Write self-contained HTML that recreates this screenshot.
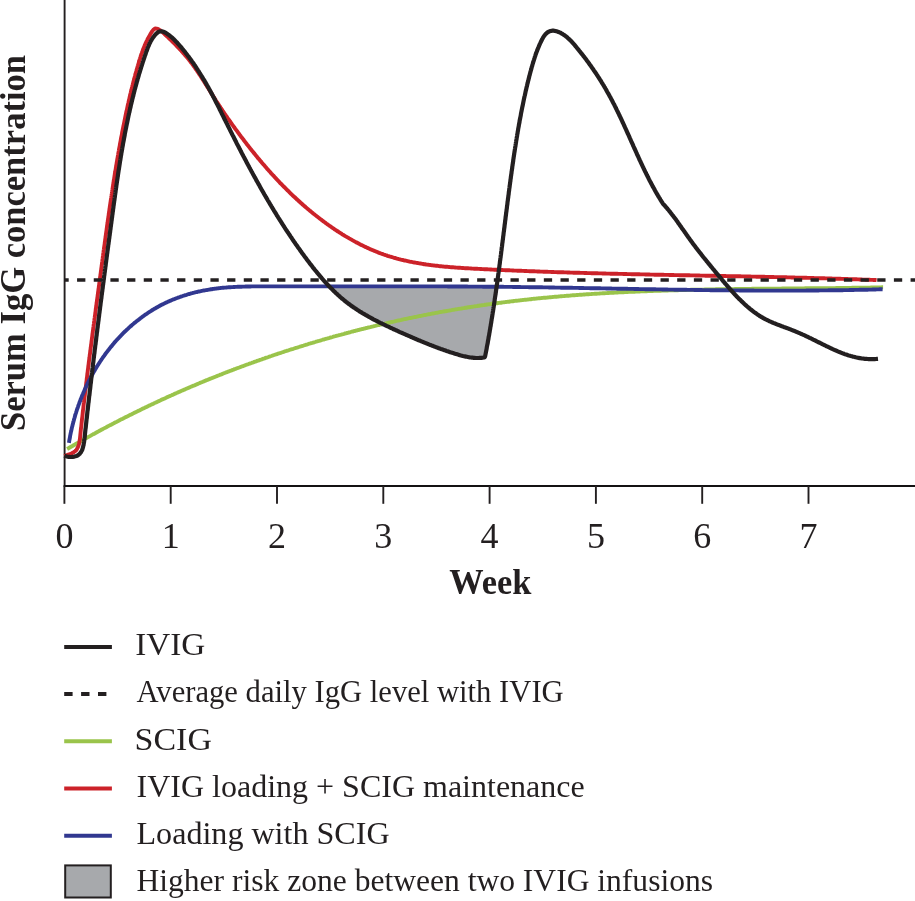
<!DOCTYPE html>
<html><head><meta charset="utf-8"><title>Serum IgG concentration</title>
<style>
html,body{margin:0;padding:0;background:#fff;}
body{width:915px;height:901px;overflow:hidden;}
svg{display:block;}
text{font-family:"Liberation Serif","DejaVu Serif",serif;fill:#231f20;}
.tick{font-size:36px;text-anchor:middle;}
.axlab{font-size:36px;font-weight:bold;text-anchor:middle;}
.ylab{font-size:36px;font-weight:bold;}
.leg{font-size:32px;}
</style></head>
<body>
<svg width="915" height="901" viewBox="0 0 915 901">
<path d="M330.5,288.0 L331.2,288.7 L331.9,289.4 L332.7,290.1 L333.4,290.8 L334.2,291.5 L334.9,292.2 L335.6,292.9 L336.4,293.6 L337.2,294.3 L337.9,294.9 L338.7,295.6 L339.5,296.2 L340.2,296.9 L341.0,297.5 L341.8,298.2 L342.6,298.8 L343.3,299.4 L344.1,300.1 L344.9,300.7 L345.7,301.3 L346.5,301.9 L347.3,302.5 L348.1,303.1 L348.9,303.7 L349.7,304.3 L350.5,304.9 L351.4,305.5 L352.2,306.1 L353.0,306.6 L353.8,307.2 L354.6,307.8 L355.5,308.3 L356.3,308.9 L357.1,309.4 L358.0,310.0 L358.8,310.5 L359.7,311.1 L360.5,311.6 L361.3,312.1 L362.2,312.7 L363.0,313.2 L363.9,313.7 L364.8,314.2 L365.6,314.7 L366.5,315.2 L367.3,315.7 L368.2,316.2 L369.1,316.7 L370.0,317.2 L370.8,317.7 L371.7,318.2 L372.6,318.7 L373.5,319.2 L374.3,319.7 L375.2,320.2 L376.1,320.6 L377.0,321.1 L377.9,321.6 L378.8,322.0 L379.7,322.5 L380.6,323.0 L381.4,323.4 L382.3,323.9 L383.2,324.3 L384.1,324.8 L385.0,325.2 L385.9,325.7 L386.8,326.1 L387.8,326.6 L388.7,327.0 L389.6,327.4 L390.5,327.9 L391.4,328.3 L392.3,328.7 L393.2,329.2 L394.1,329.6 L395.0,330.0 L396.0,330.4 L396.9,330.9 L397.8,331.3 L398.7,331.7 L399.6,332.1 L400.6,332.5 L401.5,332.9 L402.4,333.4 L403.3,333.8 L404.3,334.2 L405.2,334.6 L406.1,335.0 L407.0,335.4 L408.0,335.8 L408.9,336.2 L409.8,336.6 L410.7,337.0 L411.7,337.4 L412.6,337.8 L413.5,338.2 L414.5,338.6 L415.4,339.0 L416.3,339.4 L417.3,339.8 L418.2,340.2 L419.1,340.6 L420.1,341.0 L421.0,341.4 L421.9,341.8 L422.9,342.2 L423.8,342.5 L424.7,342.9 L425.7,343.3 L426.6,343.7 L427.6,344.1 L428.5,344.4 L429.4,344.8 L430.4,345.2 L431.3,345.5 L432.3,345.9 L433.2,346.3 L434.1,346.6 L435.1,347.0 L436.0,347.3 L437.0,347.7 L437.9,348.0 L438.9,348.4 L439.8,348.7 L440.8,349.0 L441.7,349.4 L442.7,349.7 L443.6,350.0 L444.6,350.3 L445.5,350.6 L446.5,350.9 L447.4,351.2 L448.4,351.5 L449.3,351.8 L450.3,352.1 L451.3,352.4 L452.2,352.7 L453.2,352.9 L454.1,353.2 L455.1,353.5 L456.1,353.7 L457.0,354.0 L458.0,354.2 L459.0,354.4 L459.9,354.7 L460.9,354.9 L461.9,355.1 L462.9,355.3 L463.8,355.5 L464.8,355.7 L465.8,355.9 L466.8,356.1 L467.7,356.3 L468.7,356.4 L469.7,356.6 L470.7,356.7 L471.7,356.9 L472.7,357.0 L473.6,357.2 L474.6,357.3 L475.6,357.4 L476.6,357.5 L477.6,357.6 L478.6,357.7 L479.6,357.8 L480.6,357.8 L481.6,357.9 L482.6,358.0 L483.6,358.0 L484.6,358.0 L484.9,356.2 L485.1,355.2 L485.4,354.2 L485.6,353.3 L485.9,352.3 L486.1,351.3 L486.3,350.3 L486.6,349.3 L486.8,348.3 L487.0,347.3 L487.2,346.3 L487.5,345.3 L487.7,344.3 L487.9,343.3 L488.1,342.3 L488.3,341.3 L488.5,340.3 L488.7,339.3 L488.9,338.3 L489.1,337.3 L489.2,336.3 L489.4,335.3 L489.6,334.3 L489.8,333.3 L490.0,332.3 L490.1,331.3 L490.3,330.3 L490.5,329.3 L490.6,328.3 L490.8,327.3 L491.0,326.3 L491.1,325.3 L491.3,324.3 L491.4,323.3 L491.6,322.3 L491.7,321.3 L491.9,320.3 L492.0,319.3 L492.2,318.2 L492.3,317.2 L492.5,316.2 L492.6,315.2 L492.8,314.2 L492.9,313.2 L493.1,312.2 L493.2,311.2 L493.3,310.2 L493.5,309.2 L493.6,308.2 L493.8,307.2 L493.9,306.1 L494.1,305.1 L494.2,304.1 L494.3,303.1 L494.5,302.1 L494.6,301.1 L494.8,300.1 L494.9,299.1 L495.0,298.1 L495.2,297.1 L495.3,296.1 L495.5,295.1 L495.6,294.0 L495.8,293.0 L495.9,292.0 L496.1,291.0 L496.2,290.0 L496.4,289.0 L496.5,288.0 Z" fill="#a7a9ac" stroke="none"/>
<line x1="64.6" y1="0" x2="64.6" y2="486" stroke="#231f20" stroke-width="1.9"/>
<line x1="63.6" y1="486" x2="915" y2="486" stroke="#141213" stroke-width="2"/>
<line x1="64.4" y1="486" x2="64.4" y2="503.8" stroke="#231f20" stroke-width="1.9"/>
<line x1="170.7" y1="486" x2="170.7" y2="503.8" stroke="#231f20" stroke-width="1.9"/>
<line x1="277.0" y1="486" x2="277.0" y2="503.8" stroke="#231f20" stroke-width="1.9"/>
<line x1="383.3" y1="486" x2="383.3" y2="503.8" stroke="#231f20" stroke-width="1.9"/>
<line x1="489.6" y1="486" x2="489.6" y2="503.8" stroke="#231f20" stroke-width="1.9"/>
<line x1="595.9" y1="486" x2="595.9" y2="503.8" stroke="#231f20" stroke-width="1.9"/>
<line x1="702.2" y1="486" x2="702.2" y2="503.8" stroke="#231f20" stroke-width="1.9"/>
<line x1="808.5" y1="486" x2="808.5" y2="503.8" stroke="#231f20" stroke-width="1.9"/>
<path d="M67.1,449.0 L68.0,448.5 L68.9,448.0 L69.7,447.5 L70.6,447.0 L71.5,446.5 L72.4,446.0 L73.2,445.5 L74.1,445.0 L75.0,444.5 L75.8,444.0 L76.7,443.5 L77.6,443.0 L78.5,442.5 L79.3,442.0 L80.2,441.5 L81.1,441.0 L82.0,440.5 L82.8,440.0 L83.7,439.5 L84.6,439.0 L85.5,438.5 L86.4,438.0 L87.2,437.5 L88.1,437.1 L89.0,436.6 L89.9,436.1 L90.8,435.6 L91.6,435.1 L92.5,434.6 L93.4,434.1 L94.3,433.7 L95.2,433.2 L96.0,432.7 L96.9,432.2 L97.8,431.7 L98.7,431.3 L99.6,430.8 L100.5,430.3 L101.3,429.8 L102.2,429.4 L103.1,428.9 L104.0,428.4 L104.9,427.9 L105.8,427.5 L106.7,427.0 L107.5,426.5 L108.4,426.1 L109.3,425.6 L110.2,425.1 L111.1,424.7 L112.0,424.2 L112.9,423.7 L113.8,423.3 L114.7,422.8 L115.6,422.3 L116.4,421.9 L117.3,421.4 L118.2,421.0 L119.1,420.5 L120.0,420.0 L120.9,419.6 L121.8,419.1 L122.7,418.7 L123.6,418.2 L124.5,417.8 L125.4,417.3 L126.3,416.9 L127.2,416.4 L128.1,416.0 L129.0,415.5 L129.9,415.1 L130.8,414.6 L131.7,414.2 L132.6,413.7 L133.5,413.3 L134.4,412.8 L135.3,412.4 L136.2,411.9 L137.1,411.5 L138.0,411.0 L138.9,410.6 L139.8,410.2 L140.7,409.7 L141.6,409.3 L142.5,408.8 L143.4,408.4 L144.3,408.0 L145.2,407.5 L146.1,407.1 L147.0,406.7 L147.9,406.2 L148.8,405.8 L149.7,405.4 L150.6,404.9 L151.5,404.5 L152.4,404.1 L153.3,403.7 L154.2,403.2 L155.2,402.8 L156.1,402.4 L157.0,402.0 L157.9,401.5 L158.8,401.1 L159.7,400.7 L160.6,400.3 L161.5,399.8 L162.4,399.4 L163.3,399.0 L164.3,398.6 L165.2,398.2 L166.1,397.8 L167.0,397.3 L167.9,396.9 L168.8,396.5 L169.7,396.1 L170.6,395.7 L171.6,395.3 L172.5,394.9 L173.4,394.5 L174.3,394.0 L175.2,393.6 L176.1,393.2 L177.1,392.8 L178.0,392.4 L178.9,392.0 L179.8,391.6 L180.7,391.2 L181.6,390.8 L182.6,390.4 L183.5,390.0 L184.4,389.6 L185.3,389.2 L186.2,388.8 L187.2,388.4 L188.1,388.0 L189.0,387.6 L189.9,387.2 L190.8,386.8 L191.8,386.4 L192.7,386.0 L193.6,385.6 L194.5,385.3 L195.5,384.9 L196.4,384.5 L197.3,384.1 L198.2,383.7 L199.2,383.3 L200.1,382.9 L201.0,382.5 L201.9,382.2 L202.9,381.8 L203.8,381.4 L204.7,381.0 L205.6,380.6 L206.6,380.2 L207.5,379.9 L208.4,379.5 L209.3,379.1 L210.3,378.7 L211.2,378.4 L212.1,378.0 L213.1,377.6 L214.0,377.2 L214.9,376.9 L215.9,376.5 L216.8,376.1 L217.7,375.7 L218.6,375.4 L219.6,375.0 L220.5,374.6 L221.4,374.3 L222.4,373.9 L223.3,373.5 L224.2,373.2 L225.2,372.8 L226.1,372.4 L227.0,372.1 L228.0,371.7 L228.9,371.4 L229.8,371.0 L230.8,370.6 L231.7,370.3 L232.7,369.9 L233.6,369.6 L234.5,369.2 L235.5,368.9 L236.4,368.5 L237.3,368.2 L238.3,367.8 L239.2,367.5 L240.2,367.1 L241.1,366.7 L242.0,366.4 L243.0,366.1 L243.9,365.7 L244.8,365.4 L245.8,365.0 L246.7,364.7 L247.7,364.3 L248.6,364.0 L249.6,363.6 L250.5,363.3 L251.4,363.0 L252.4,362.6 L253.3,362.3 L254.3,361.9 L255.2,361.6 L256.1,361.3 L257.1,360.9 L258.0,360.6 L259.0,360.3 L259.9,359.9 L260.9,359.6 L261.8,359.3 L262.8,358.9 L263.7,358.6 L264.7,358.3 L265.6,357.9 L266.5,357.6 L267.5,357.3 L268.4,357.0 L269.4,356.6 L270.3,356.3 L271.3,356.0 L272.2,355.7 L273.2,355.3 L274.1,355.0 L275.1,354.7 L276.0,354.4 L277.0,354.1 L277.9,353.7 L278.9,353.4 L279.8,353.1 L280.8,352.8 L281.7,352.5 L282.7,352.2 L283.6,351.9 L284.6,351.5 L285.5,351.2 L286.5,350.9 L287.4,350.6 L288.4,350.3 L289.3,350.0 L290.3,349.7 L291.2,349.4 L292.2,349.1 L293.2,348.8 L294.1,348.5 L295.1,348.2 L296.0,347.9 L297.0,347.6 L297.9,347.3 L298.9,347.0 L299.8,346.7 L300.8,346.4 L301.7,346.1 L302.7,345.8 L303.7,345.5 L304.6,345.2 L305.6,344.9 L306.5,344.6 L307.5,344.3 L308.4,344.0 L309.4,343.7 L310.4,343.4 L311.3,343.1 L312.3,342.9 L313.2,342.6 L314.2,342.3 L315.2,342.0 L316.1,341.7 L317.1,341.4 L318.0,341.1 L319.0,340.9 L320.0,340.6 L320.9,340.3 L321.9,340.0 L322.8,339.7 L323.8,339.5 L324.8,339.2 L325.7,338.9 L326.7,338.6 L327.7,338.4 L328.6,338.1 L329.6,337.8 L330.5,337.5 L331.5,337.3 L332.5,337.0 L333.4,336.7 L334.4,336.4 L335.4,336.2 L336.3,335.9 L337.3,335.6 L338.3,335.4 L339.2,335.1 L340.2,334.9 L341.2,334.6 L342.1,334.3 L343.1,334.1 L344.1,333.8 L345.0,333.5 L346.0,333.3 L347.0,333.0 L347.9,332.8 L348.9,332.5 L349.9,332.3 L350.8,332.0 L351.8,331.7 L352.8,331.5 L353.7,331.2 L354.7,331.0 L355.7,330.7 L356.6,330.5 L357.6,330.2 L358.6,330.0 L359.6,329.7 L360.5,329.5 L361.5,329.2 L362.5,329.0 L363.4,328.8 L364.4,328.5 L365.4,328.3 L366.3,328.0 L367.3,327.8 L368.3,327.5 L369.3,327.3 L370.2,327.1 L371.2,326.8 L372.2,326.6 L373.2,326.4 L374.1,326.1 L375.1,325.9 L376.1,325.6 L377.0,325.4 L378.0,325.2 L379.0,325.0 L380.0,324.7 L380.9,324.5 L381.9,324.3 L382.9,324.0 L383.9,323.8 L384.8,323.6 L385.8,323.4 L386.8,323.1 L387.8,322.9 L388.7,322.7 L389.7,322.5 L390.7,322.2 L391.7,322.0 L392.6,321.8 L393.6,321.6 L394.6,321.4 L395.6,321.1 L396.6,320.9 L397.5,320.7 L398.5,320.5 L399.5,320.3 L400.5,320.1 L401.4,319.9 L402.4,319.6 L403.4,319.4 L404.4,319.2 L405.4,319.0 L406.3,318.8 L407.3,318.6 L408.3,318.4 L409.3,318.2 L410.3,318.0 L411.2,317.8 L412.2,317.6 L413.2,317.4 L414.2,317.2 L415.2,317.0 L416.1,316.8 L417.1,316.6 L418.1,316.4 L419.1,316.2 L420.1,316.0 L421.0,315.8 L422.0,315.6 L423.0,315.4 L424.0,315.2 L425.0,315.0 L426.0,314.8 L426.9,314.6 L427.9,314.4 L428.9,314.2 L429.9,314.1 L430.9,313.9 L431.9,313.7 L432.8,313.5 L433.8,313.3 L434.8,313.1 L435.8,312.9 L436.8,312.8 L437.8,312.6 L438.7,312.4 L439.7,312.2 L440.7,312.0 L441.7,311.9 L442.7,311.7 L443.7,311.5 L444.7,311.3 L445.6,311.2 L446.6,311.0 L447.6,310.8 L448.6,310.6 L449.6,310.5 L450.6,310.3 L451.6,310.1 L452.5,309.9 L453.5,309.8 L454.5,309.6 L455.5,309.4 L456.5,309.3 L457.5,309.1 L458.5,308.9 L459.4,308.8 L460.4,308.6 L461.4,308.5 L462.4,308.3 L463.4,308.1 L464.4,308.0 L465.4,307.8 L466.4,307.7 L467.4,307.5 L468.3,307.3 L469.3,307.2 L470.3,307.0 L471.3,306.9 L472.3,306.7 L473.3,306.6 L474.3,306.4 L475.3,306.3 L476.3,306.1 L477.2,306.0 L478.2,305.8 L479.2,305.7 L480.2,305.5 L481.2,305.4 L482.2,305.2 L483.2,305.1 L484.2,305.0 L485.2,304.8 L486.2,304.7 L487.1,304.5 L488.1,304.4 L489.1,304.3 L490.1,304.1 L491.1,304.0 L492.1,303.8 L493.1,303.7 L494.1,303.6 L495.1,303.4 L496.1,303.3 L497.1,303.2 L498.1,303.0 L499.0,302.9 L500.0,302.8 L501.0,302.7 L502.0,302.5 L503.0,302.4 L504.0,302.3 L505.0,302.1 L506.0,302.0 L507.0,301.9 L508.0,301.8 L509.0,301.7 L510.0,301.5 L511.0,301.4 L512.0,301.3 L512.9,301.2 L513.9,301.0 L514.9,300.9 L515.9,300.8 L516.9,300.7 L517.9,300.6 L518.9,300.5 L519.9,300.4 L520.9,300.2 L521.9,300.1 L522.9,300.0 L523.9,299.9 L524.9,299.8 L525.9,299.7 L526.9,299.6 L527.9,299.5 L528.9,299.4 L529.9,299.3 L530.8,299.2 L531.8,299.0 L532.8,298.9 L533.8,298.8 L534.8,298.7 L535.8,298.6 L536.8,298.5 L537.8,298.4 L538.8,298.3 L539.8,298.2 L540.8,298.1 L541.8,298.0 L542.8,297.9 L543.8,297.8 L544.8,297.7 L545.8,297.7 L546.8,297.6 L547.8,297.5 L548.8,297.4 L549.8,297.3 L550.8,297.2 L551.8,297.1 L552.8,297.0 L553.8,296.9 L554.8,296.8 L555.8,296.7 L556.8,296.7 L557.8,296.6 L558.7,296.5 L559.7,296.4 L560.7,296.3 L561.7,296.2 L562.7,296.1 L563.7,296.1 L564.7,296.0 L565.7,295.9 L566.7,295.8 L567.7,295.7 L568.7,295.7 L569.7,295.6 L570.7,295.5 L571.7,295.4 L572.7,295.3 L573.7,295.3 L574.7,295.2 L575.7,295.1 L576.7,295.0 L577.7,295.0 L578.7,294.9 L579.7,294.8 L580.7,294.8 L581.7,294.7 L582.7,294.6 L583.7,294.5 L584.7,294.5 L585.7,294.4 L586.7,294.3 L587.7,294.3 L588.7,294.2 L589.7,294.1 L590.7,294.1 L591.7,294.0 L592.7,293.9 L593.7,293.9 L594.7,293.8 L595.7,293.7 L596.7,293.7 L597.7,293.6 L598.7,293.6 L599.7,293.5 L600.7,293.4 L601.7,293.4 L602.7,293.3 L603.7,293.3 L604.7,293.2 L605.7,293.1 L606.7,293.1 L607.7,293.0 L608.7,293.0 L609.7,292.9 L610.7,292.9 L611.7,292.8 L612.7,292.7 L613.7,292.7 L614.7,292.6 L615.7,292.6 L616.7,292.5 L617.7,292.5 L618.7,292.4 L619.7,292.4 L620.7,292.3 L621.7,292.3 L622.7,292.2 L623.7,292.2 L624.7,292.1 L625.7,292.1 L626.7,292.0 L627.7,292.0 L628.7,291.9 L629.7,291.9 L630.7,291.8 L631.7,291.8 L632.7,291.8 L633.7,291.7 L634.7,291.7 L635.8,291.6 L636.8,291.6 L637.8,291.5 L638.8,291.5 L639.8,291.5 L640.8,291.4 L641.8,291.4 L642.8,291.3 L643.8,291.3 L644.8,291.3 L645.8,291.2 L646.8,291.2 L647.8,291.1 L648.8,291.1 L649.8,291.1 L650.8,291.0 L651.8,291.0 L652.8,291.0 L653.8,290.9 L654.8,290.9 L655.8,290.8 L656.8,290.8 L657.8,290.8 L658.8,290.7 L659.8,290.7 L660.8,290.7 L661.8,290.6 L662.8,290.6 L663.8,290.6 L664.8,290.5 L665.8,290.5 L666.8,290.5 L667.8,290.5 L668.8,290.4 L669.8,290.4 L670.8,290.4 L671.8,290.3 L672.8,290.3 L673.8,290.3 L674.8,290.2 L675.9,290.2 L676.9,290.2 L677.9,290.2 L678.9,290.1 L679.9,290.1 L680.9,290.1 L681.9,290.1 L682.9,290.0 L683.9,290.0 L684.9,290.0 L685.9,290.0 L686.9,289.9 L687.9,289.9 L688.9,289.9 L689.9,289.9 L690.9,289.8 L691.9,289.8 L692.9,289.8 L693.9,289.8 L694.9,289.7 L695.9,289.7 L696.9,289.7 L697.9,289.7 L698.9,289.7 L699.9,289.6 L700.9,289.6 L701.9,289.6 L702.9,289.6 L703.9,289.6 L704.9,289.5 L705.9,289.5 L706.9,289.5 L708.0,289.5 L709.0,289.5 L710.0,289.4 L711.0,289.4 L712.0,289.4 L713.0,289.4 L714.0,289.4 L715.0,289.4 L716.0,289.3 L717.0,289.3 L718.0,289.3 L719.0,289.3 L720.0,289.3 L721.0,289.3 L722.0,289.2 L723.0,289.2 L724.0,289.2 L725.0,289.2 L726.0,289.2 L727.0,289.2 L728.0,289.1 L729.0,289.1 L730.0,289.1 L731.0,289.1 L732.0,289.1 L733.0,289.1 L734.0,289.1 L735.0,289.0 L736.0,289.0 L737.0,289.0 L738.0,289.0 L739.1,289.0 L740.1,289.0 L741.1,289.0 L742.1,289.0 L743.1,288.9 L744.1,288.9 L745.1,288.9 L746.1,288.9 L747.1,288.9 L748.1,288.9 L749.1,288.9 L750.1,288.9 L751.1,288.9 L752.1,288.8 L753.1,288.8 L754.1,288.8 L755.1,288.8 L756.1,288.8 L757.1,288.8 L758.1,288.8 L759.1,288.8 L760.1,288.8 L761.1,288.7 L762.1,288.7 L763.1,288.7 L764.1,288.7 L765.1,288.7 L766.1,288.7 L767.1,288.7 L768.1,288.7 L769.1,288.7 L770.1,288.7 L771.1,288.6 L772.1,288.6 L773.1,288.6 L774.1,288.6 L775.1,288.6 L776.1,288.6 L777.2,288.6 L778.2,288.6 L779.2,288.6 L780.2,288.6 L781.2,288.6 L782.2,288.5 L783.2,288.5 L784.2,288.5 L785.2,288.5 L786.2,288.5 L787.2,288.5 L788.2,288.5 L789.2,288.5 L790.2,288.5 L791.2,288.5 L792.2,288.5 L793.2,288.5 L794.2,288.4 L795.2,288.4 L796.2,288.4 L797.2,288.4 L798.2,288.4 L799.2,288.4 L800.2,288.4 L801.2,288.4 L802.2,288.4 L803.2,288.4 L804.2,288.4 L805.2,288.3 L806.2,288.3 L807.2,288.3 L808.2,288.3 L809.2,288.3 L810.2,288.3 L811.2,288.3 L812.2,288.3 L813.2,288.3 L814.2,288.3 L815.2,288.3 L816.2,288.2 L817.2,288.2 L818.2,288.2 L819.2,288.2 L820.2,288.2 L821.2,288.2 L822.2,288.2 L823.2,288.2 L824.2,288.2 L825.2,288.2 L826.2,288.1 L827.2,288.1 L828.2,288.1 L829.2,288.1 L830.2,288.1 L831.2,288.1 L832.2,288.1 L833.2,288.1 L834.2,288.1 L835.2,288.1 L836.2,288.0 L837.2,288.0 L838.2,288.0 L839.2,288.0 L840.2,288.0 L841.2,288.0 L842.2,288.0 L843.2,288.0 L844.2,287.9 L845.2,287.9 L846.2,287.9 L847.2,287.9 L848.2,287.9 L849.2,287.9 L850.2,287.9 L851.2,287.9 L852.2,287.8 L853.2,287.8 L854.2,287.8 L855.2,287.8 L856.2,287.8 L857.2,287.8 L858.2,287.8 L859.2,287.7 L860.2,287.7 L861.2,287.7 L862.2,287.7 L863.2,287.7 L864.1,287.7 L865.1,287.6 L866.1,287.6 L867.1,287.6 L868.1,287.6 L869.1,287.6 L870.1,287.6 L871.1,287.5 L872.1,287.5 L873.1,287.5 L874.1,287.5 L875.1,287.5 L876.1,287.5 L877.1,287.4 L878.1,287.4 L879.1,287.4 L880.1,287.4 L881.1,287.4 L882.1,287.3 L883.1,287.3" fill="none" stroke="#9ac44b" stroke-width="3.9"/>
<path d="M64.4,456.1 L65.3,455.7 L66.2,455.4 L67.1,455.0 L68.1,454.7 L69.0,454.3 L70.0,454.0 L71.0,453.6 L71.9,453.2 L72.8,452.7 L73.7,452.2 L74.5,451.7 L75.3,451.1 L76.0,450.4 L76.6,449.6 L77.1,448.7 L77.6,447.9 L78.0,446.9 L78.4,446.0 L78.7,445.0 L79.0,444.0 L79.2,443.0 L79.4,442.0 L79.6,441.1 L79.7,440.1 L79.9,439.1 L80.0,438.1 L80.1,437.1 L80.2,436.1 L80.3,435.1 L80.4,434.1 L80.5,433.1 L80.6,432.1 L80.7,431.1 L80.8,430.1 L80.9,429.1 L81.0,428.1 L81.2,427.1 L81.3,426.1 L81.4,425.1 L81.5,424.1 L81.6,423.1 L81.7,422.2 L81.8,421.2 L81.9,420.2 L82.0,419.2 L82.1,418.2 L82.3,417.2 L82.4,416.2 L82.5,415.2 L82.6,414.2 L82.7,413.2 L82.8,412.2 L82.9,411.2 L83.0,410.2 L83.2,409.2 L83.3,408.2 L83.4,407.2 L83.5,406.2 L83.6,405.2 L83.7,404.2 L83.8,403.3 L84.0,402.3 L84.1,401.3 L84.2,400.3 L84.3,399.3 L84.4,398.3 L84.5,397.3 L84.7,396.3 L84.8,395.3 L84.9,394.3 L85.0,393.3 L85.1,392.3 L85.3,391.3 L85.4,390.3 L85.5,389.3 L85.6,388.3 L85.7,387.3 L85.9,386.4 L86.0,385.4 L86.1,384.4 L86.2,383.4 L86.3,382.4 L86.5,381.4 L86.6,380.4 L86.7,379.4 L86.8,378.4 L87.0,377.4 L87.1,376.4 L87.2,375.4 L87.3,374.4 L87.4,373.4 L87.6,372.4 L87.7,371.4 L87.8,370.5 L87.9,369.5 L88.1,368.5 L88.2,367.5 L88.3,366.5 L88.4,365.5 L88.6,364.5 L88.7,363.5 L88.8,362.5 L88.9,361.5 L89.1,360.5 L89.2,359.5 L89.3,358.5 L89.5,357.5 L89.6,356.6 L89.7,355.6 L89.8,354.6 L90.0,353.6 L90.1,352.6 L90.2,351.6 L90.3,350.6 L90.5,349.6 L90.6,348.6 L90.7,347.6 L90.9,346.6 L91.0,345.6 L91.1,344.6 L91.3,343.6 L91.4,342.7 L91.5,341.7 L91.6,340.7 L91.8,339.7 L91.9,338.7 L92.0,337.7 L92.2,336.7 L92.3,335.7 L92.4,334.7 L92.5,333.7 L92.7,332.7 L92.8,331.7 L92.9,330.7 L93.1,329.7 L93.2,328.8 L93.3,327.8 L93.5,326.8 L93.6,325.8 L93.7,324.8 L93.9,323.8 L94.0,322.8 L94.1,321.8 L94.3,320.8 L94.4,319.8 L94.5,318.8 L94.7,317.8 L94.8,316.8 L94.9,315.8 L95.1,314.9 L95.2,313.9 L95.3,312.9 L95.5,311.9 L95.6,310.9 L95.7,309.9 L95.8,308.9 L96.0,307.9 L96.1,306.9 L96.2,305.9 L96.4,304.9 L96.5,303.9 L96.6,302.9 L96.8,302.0 L96.9,301.0 L97.0,300.0 L97.2,299.0 L97.3,298.0 L97.5,297.0 L97.6,296.0 L97.7,295.0 L97.9,294.0 L98.0,293.0 L98.1,292.0 L98.3,291.0 L98.4,290.0 L98.5,289.0 L98.7,288.1 L98.8,287.1 L98.9,286.1 L99.1,285.1 L99.2,284.1 L99.3,283.1 L99.5,282.1 L99.6,281.1 L99.7,280.1 L99.9,279.1 L100.0,278.1 L100.1,277.1 L100.3,276.1 L100.4,275.2 L100.5,274.2 L100.7,273.2 L100.8,272.2 L100.9,271.2 L101.1,270.2 L101.2,269.2 L101.3,268.2 L101.5,267.2 L101.6,266.2 L101.7,265.2 L101.9,264.2 L102.0,263.2 L102.1,262.2 L102.3,261.3 L102.4,260.3 L102.5,259.3 L102.7,258.3 L102.8,257.3 L102.9,256.3 L103.1,255.3 L103.2,254.3 L103.3,253.3 L103.5,252.3 L103.6,251.3 L103.7,250.3 L103.9,249.3 L104.0,248.3 L104.1,247.4 L104.3,246.4 L104.4,245.4 L104.6,244.4 L104.7,243.4 L104.8,242.4 L105.0,241.4 L105.1,240.4 L105.2,239.4 L105.4,238.4 L105.5,237.4 L105.6,236.4 L105.8,235.4 L105.9,234.5 L106.0,233.5 L106.2,232.5 L106.3,231.5 L106.5,230.5 L106.6,229.5 L106.7,228.5 L106.9,227.5 L107.0,226.5 L107.1,225.5 L107.3,224.5 L107.4,223.5 L107.6,222.5 L107.7,221.6 L107.8,220.6 L108.0,219.6 L108.1,218.6 L108.3,217.6 L108.4,216.6 L108.6,215.6 L108.7,214.6 L108.8,213.6 L109.0,212.6 L109.1,211.6 L109.3,210.6 L109.4,209.7 L109.5,208.7 L109.7,207.7 L109.8,206.7 L110.0,205.7 L110.1,204.7 L110.3,203.7 L110.4,202.7 L110.6,201.7 L110.7,200.7 L110.9,199.7 L111.0,198.8 L111.2,197.8 L111.3,196.8 L111.5,195.8 L111.6,194.8 L111.8,193.8 L111.9,192.8 L112.1,191.8 L112.2,190.8 L112.4,189.8 L112.5,188.9 L112.7,187.9 L112.8,186.9 L113.0,185.9 L113.1,184.9 L113.3,183.9 L113.4,182.9 L113.6,181.9 L113.7,180.9 L113.9,179.9 L114.1,179.0 L114.2,178.0 L114.4,177.0 L114.5,176.0 L114.7,175.0 L114.8,174.0 L115.0,173.0 L115.2,172.0 L115.3,171.1 L115.5,170.1 L115.7,169.1 L115.8,168.1 L116.0,167.1 L116.1,166.1 L116.3,165.1 L116.5,164.1 L116.6,163.2 L116.8,162.2 L117.0,161.2 L117.1,160.2 L117.3,159.2 L117.5,158.2 L117.7,157.2 L117.8,156.2 L118.0,155.3 L118.2,154.3 L118.3,153.3 L118.5,152.3 L118.7,151.3 L118.9,150.3 L119.0,149.3 L119.2,148.4 L119.4,147.4 L119.6,146.4 L119.8,145.4 L119.9,144.4 L120.1,143.4 L120.3,142.5 L120.5,141.5 L120.7,140.5 L120.8,139.5 L121.0,138.5 L121.2,137.5 L121.4,136.5 L121.6,135.6 L121.8,134.6 L122.0,133.6 L122.1,132.6 L122.3,131.6 L122.5,130.7 L122.7,129.7 L122.9,128.7 L123.1,127.7 L123.3,126.7 L123.5,125.7 L123.7,124.8 L123.9,123.8 L124.1,122.8 L124.3,121.8 L124.5,120.8 L124.7,119.9 L124.9,118.9 L125.1,117.9 L125.3,116.9 L125.5,115.9 L125.7,115.0 L125.9,114.0 L126.1,113.0 L126.3,112.0 L126.5,111.0 L126.8,110.1 L127.0,109.1 L127.2,108.1 L127.4,107.1 L127.6,106.2 L127.8,105.2 L128.0,104.2 L128.3,103.2 L128.5,102.2 L128.7,101.3 L128.9,100.3 L129.2,99.3 L129.4,98.3 L129.6,97.4 L129.8,96.4 L130.1,95.4 L130.3,94.5 L130.5,93.5 L130.8,92.5 L131.0,91.5 L131.2,90.6 L131.5,89.6 L131.7,88.6 L131.9,87.7 L132.2,86.7 L132.4,85.7 L132.7,84.7 L132.9,83.8 L133.2,82.8 L133.4,81.8 L133.7,80.9 L133.9,79.9 L134.2,78.9 L134.4,78.0 L134.7,77.0 L135.0,76.0 L135.2,75.1 L135.5,74.1 L135.7,73.2 L136.0,72.2 L136.3,71.2 L136.5,70.3 L136.8,69.3 L137.1,68.3 L137.4,67.4 L137.6,66.4 L137.9,65.5 L138.2,64.5 L138.5,63.5 L138.8,62.6 L139.0,61.6 L139.3,60.7 L139.6,59.7 L139.9,58.8 L140.2,57.8 L140.5,56.9 L140.8,55.9 L141.1,55.0 L141.5,54.0 L141.8,53.1 L142.1,52.1 L142.5,51.2 L142.8,50.2 L143.2,49.3 L143.5,48.4 L143.9,47.4 L144.3,46.5 L144.7,45.6 L145.0,44.7 L145.5,43.7 L145.9,42.8 L146.3,41.9 L146.7,41.0 L147.2,40.1 L147.6,39.2 L148.1,38.3 L148.6,37.4 L149.1,36.5 L149.6,35.6 L150.1,34.7 L150.6,33.8 L151.1,32.9 L151.7,32.0 L152.3,31.2 L152.9,30.4 L153.5,29.6 L154.2,29.1 L154.9,28.7 L155.7,28.5 L156.6,28.6 L157.6,28.9 L158.5,29.3 L159.4,29.8 L160.3,30.4 L161.2,31.1 L162.0,31.7 L162.8,32.4 L163.5,33.1 L164.3,33.8 L165.1,34.6 L165.8,35.3 L166.6,36.0 L167.3,36.7 L168.1,37.4 L168.8,38.1 L169.5,38.8 L170.3,39.5 L171.0,40.2 L171.7,40.9 L172.4,41.6 L173.1,42.3 L173.9,43.0 L174.6,43.7 L175.3,44.5 L176.0,45.2 L176.6,45.9 L177.3,46.6 L178.0,47.3 L178.7,48.0 L179.4,48.7 L180.0,49.4 L180.7,50.2 L181.4,50.9 L182.0,51.6 L182.7,52.3 L183.3,53.1 L184.0,53.8 L184.6,54.6 L185.2,55.3 L185.9,56.0 L186.5,56.8 L187.1,57.5 L187.8,58.3 L188.4,59.1 L189.0,59.8 L189.6,60.6 L190.2,61.4 L190.8,62.2 L191.4,62.9 L192.0,63.7 L192.6,64.5 L193.2,65.3 L193.7,66.1 L194.3,66.9 L194.9,67.7 L195.5,68.6 L196.0,69.4 L196.6,70.2 L197.2,71.0 L197.7,71.9 L198.3,72.7 L198.9,73.5 L199.4,74.4 L200.0,75.2 L200.5,76.0 L201.1,76.9 L201.6,77.7 L202.2,78.6 L202.7,79.4 L203.2,80.3 L203.8,81.1 L204.3,82.0 L204.9,82.8 L205.4,83.7 L205.9,84.6 L206.5,85.4 L207.0,86.3 L207.5,87.1 L208.1,88.0 L208.6,88.8 L209.2,89.7 L209.7,90.6 L210.2,91.4 L210.8,92.3 L211.3,93.1 L211.8,94.0 L212.4,94.9 L212.9,95.7 L213.4,96.6 L214.0,97.4 L214.5,98.3 L215.1,99.1 L215.6,100.0 L216.1,100.8 L216.7,101.7 L217.2,102.5 L217.8,103.3 L218.3,104.2 L218.9,105.0 L219.4,105.9 L220.0,106.7 L220.5,107.5 L221.1,108.4 L221.6,109.2 L222.2,110.0 L222.7,110.9 L223.3,111.7 L223.9,112.5 L224.4,113.3 L225.0,114.2 L225.5,115.0 L226.1,115.8 L226.7,116.6 L227.2,117.5 L227.8,118.3 L228.4,119.1 L229.0,119.9 L229.5,120.7 L230.1,121.5 L230.7,122.4 L231.2,123.2 L231.8,124.0 L232.4,124.8 L233.0,125.6 L233.6,126.4 L234.1,127.2 L234.7,128.0 L235.3,128.8 L235.9,129.6 L236.5,130.4 L237.1,131.2 L237.7,132.0 L238.3,132.8 L238.9,133.6 L239.4,134.4 L240.0,135.2 L240.6,136.0 L241.2,136.8 L241.8,137.6 L242.5,138.4 L243.1,139.2 L243.7,140.0 L244.3,140.8 L244.9,141.6 L245.5,142.4 L246.1,143.2 L246.7,144.0 L247.3,144.8 L248.0,145.5 L248.6,146.3 L249.2,147.1 L249.8,147.9 L250.4,148.7 L251.1,149.5 L251.7,150.3 L252.3,151.1 L252.9,151.8 L253.6,152.6 L254.2,153.4 L254.9,154.2 L255.5,155.0 L256.1,155.7 L256.8,156.5 L257.4,157.3 L258.0,158.1 L258.7,158.8 L259.3,159.6 L260.0,160.4 L260.6,161.2 L261.3,161.9 L261.9,162.7 L262.6,163.5 L263.2,164.2 L263.9,165.0 L264.6,165.7 L265.2,166.5 L265.9,167.3 L266.5,168.0 L267.2,168.8 L267.9,169.5 L268.5,170.3 L269.2,171.0 L269.9,171.8 L270.5,172.5 L271.2,173.3 L271.9,174.0 L272.5,174.7 L273.2,175.5 L273.9,176.2 L274.6,177.0 L275.2,177.7 L275.9,178.4 L276.6,179.2 L277.3,179.9 L278.0,180.6 L278.7,181.3 L279.3,182.0 L280.0,182.8 L280.7,183.5 L281.4,184.2 L282.1,184.9 L282.8,185.6 L283.5,186.3 L284.2,187.0 L284.9,187.7 L285.6,188.4 L286.3,189.1 L287.0,189.8 L287.7,190.5 L288.4,191.2 L289.1,191.9 L289.8,192.6 L290.5,193.3 L291.2,194.0 L291.9,194.6 L292.6,195.3 L293.3,196.0 L294.1,196.7 L294.8,197.3 L295.5,198.0 L296.2,198.7 L296.9,199.4 L297.7,200.0 L298.4,200.7 L299.1,201.4 L299.9,202.0 L300.6,202.7 L301.3,203.3 L302.1,204.0 L302.8,204.7 L303.6,205.3 L304.3,206.0 L305.1,206.6 L305.8,207.3 L306.6,207.9 L307.4,208.6 L308.1,209.2 L308.9,209.9 L309.6,210.5 L310.4,211.1 L311.2,211.8 L312.0,212.4 L312.7,213.0 L313.5,213.7 L314.3,214.3 L315.1,214.9 L315.9,215.6 L316.7,216.2 L317.5,216.8 L318.3,217.4 L319.1,218.1 L319.9,218.7 L320.7,219.3 L321.5,219.9 L322.3,220.5 L323.1,221.1 L323.9,221.7 L324.7,222.3 L325.5,222.9 L326.3,223.5 L327.2,224.1 L328.0,224.7 L328.8,225.3 L329.6,225.9 L330.5,226.4 L331.3,227.0 L332.1,227.6 L333.0,228.2 L333.8,228.7 L334.6,229.3 L335.5,229.9 L336.3,230.4 L337.2,231.0 L338.0,231.5 L338.9,232.1 L339.7,232.6 L340.6,233.2 L341.4,233.7 L342.3,234.3 L343.1,234.8 L344.0,235.3 L344.9,235.9 L345.7,236.4 L346.6,236.9 L347.5,237.4 L348.4,237.9 L349.2,238.4 L350.1,238.9 L351.0,239.4 L351.9,239.9 L352.7,240.4 L353.6,240.9 L354.5,241.4 L355.4,241.9 L356.3,242.4 L357.2,242.8 L358.1,243.3 L359.0,243.8 L359.9,244.2 L360.8,244.7 L361.7,245.1 L362.6,245.6 L363.5,246.0 L364.4,246.4 L365.3,246.9 L366.2,247.3 L367.1,247.7 L368.0,248.1 L368.9,248.6 L369.8,249.0 L370.7,249.4 L371.7,249.8 L372.6,250.2 L373.5,250.5 L374.4,250.9 L375.4,251.3 L376.3,251.7 L377.2,252.0 L378.1,252.4 L379.1,252.8 L380.0,253.1 L380.9,253.5 L381.9,253.8 L382.8,254.1 L383.7,254.5 L384.7,254.8 L385.6,255.1 L386.6,255.4 L387.5,255.8 L388.5,256.1 L389.4,256.4 L390.3,256.6 L391.3,256.9 L392.2,257.2 L393.2,257.5 L394.1,257.8 L395.1,258.0 L396.1,258.3 L397.0,258.6 L398.0,258.8 L398.9,259.1 L399.9,259.3 L400.9,259.6 L401.8,259.8 L402.8,260.0 L403.7,260.3 L404.7,260.5 L405.7,260.7 L406.6,260.9 L407.6,261.1 L408.6,261.3 L409.6,261.6 L410.5,261.8 L411.5,261.9 L412.5,262.1 L413.4,262.3 L414.4,262.5 L415.4,262.7 L416.4,262.9 L417.4,263.0 L418.3,263.2 L419.3,263.4 L420.3,263.5 L421.3,263.7 L422.3,263.9 L423.2,264.0 L424.2,264.2 L425.2,264.3 L426.2,264.5 L427.2,264.6 L428.2,264.7 L429.2,264.9 L430.2,265.0 L431.1,265.1 L432.1,265.3 L433.1,265.4 L434.1,265.5 L435.1,265.6 L436.1,265.7 L437.1,265.8 L438.1,265.9 L439.1,266.1 L440.1,266.2 L441.1,266.3 L442.1,266.4 L443.1,266.5 L444.1,266.6 L445.1,266.7 L446.1,266.7 L447.1,266.8 L448.1,266.9 L449.1,267.0 L450.1,267.1 L451.1,267.2 L452.1,267.3 L453.1,267.3 L454.1,267.4 L455.1,267.5 L456.1,267.6 L457.1,267.6 L458.1,267.7 L459.1,267.8 L460.1,267.8 L461.1,267.9 L462.1,268.0 L463.1,268.0 L464.1,268.1 L465.1,268.2 L466.1,268.2 L467.1,268.3 L468.1,268.3 L469.1,268.4 L470.1,268.4 L471.1,268.5 L472.1,268.6 L473.1,268.6 L474.1,268.7 L475.2,268.7 L476.2,268.8 L477.2,268.8 L478.2,268.9 L479.2,268.9 L480.2,269.0 L481.2,269.0 L482.2,269.1 L483.2,269.1 L484.2,269.2 L485.2,269.2 L486.2,269.3 L487.2,269.3 L488.2,269.4 L489.2,269.4 L490.2,269.5 L491.2,269.5 L492.2,269.6 L493.2,269.6 L494.2,269.7 L495.3,269.7 L496.3,269.8 L497.3,269.8 L498.3,269.9 L499.3,269.9 L500.3,269.9 L501.3,270.0 L502.3,270.0 L503.3,270.1 L504.3,270.1 L505.3,270.2 L506.3,270.2 L507.3,270.3 L508.3,270.3 L509.3,270.3 L510.3,270.4 L511.3,270.4 L512.3,270.5 L513.3,270.5 L514.3,270.6 L515.3,270.6 L516.3,270.6 L517.3,270.7 L518.3,270.7 L519.3,270.8 L520.3,270.8 L521.3,270.8 L522.3,270.9 L523.4,270.9 L524.4,271.0 L525.4,271.0 L526.4,271.0 L527.4,271.1 L528.4,271.1 L529.4,271.2 L530.4,271.2 L531.4,271.2 L532.4,271.3 L533.4,271.3 L534.4,271.3 L535.4,271.4 L536.4,271.4 L537.4,271.5 L538.4,271.5 L539.4,271.5 L540.4,271.6 L541.4,271.6 L542.4,271.6 L543.4,271.7 L544.4,271.7 L545.4,271.7 L546.4,271.8 L547.4,271.8 L548.4,271.9 L549.4,271.9 L550.4,271.9 L551.4,272.0 L552.4,272.0 L553.4,272.0 L554.4,272.1 L555.4,272.1 L556.4,272.1 L557.4,272.2 L558.4,272.2 L559.4,272.2 L560.4,272.3 L561.4,272.3 L562.4,272.3 L563.4,272.3 L564.4,272.4 L565.4,272.4 L566.4,272.4 L567.4,272.5 L568.4,272.5 L569.4,272.5 L570.4,272.6 L571.4,272.6 L572.4,272.6 L573.4,272.7 L574.4,272.7 L575.4,272.7 L576.4,272.7 L577.4,272.8 L578.4,272.8 L579.4,272.8 L580.4,272.9 L581.4,272.9 L582.4,272.9 L583.4,272.9 L584.4,273.0 L585.4,273.0 L586.4,273.0 L587.4,273.1 L588.4,273.1 L589.4,273.1 L590.5,273.1 L591.5,273.2 L592.5,273.2 L593.5,273.2 L594.5,273.3 L595.5,273.3 L596.5,273.3 L597.5,273.3 L598.5,273.4 L599.5,273.4 L600.5,273.4 L601.5,273.4 L602.5,273.5 L603.5,273.5 L604.5,273.5 L605.5,273.5 L606.5,273.6 L607.5,273.6 L608.5,273.6 L609.5,273.6 L610.5,273.7 L611.5,273.7 L612.5,273.7 L613.5,273.7 L614.5,273.8 L615.5,273.8 L616.5,273.8 L617.4,273.8 L618.4,273.9 L619.4,273.9 L620.4,273.9 L621.4,273.9 L622.4,273.9 L623.4,274.0 L624.4,274.0 L625.4,274.0 L626.4,274.0 L627.4,274.1 L628.4,274.1 L629.4,274.1 L630.4,274.1 L631.4,274.2 L632.4,274.2 L633.4,274.2 L634.4,274.2 L635.4,274.2 L636.4,274.3 L637.4,274.3 L638.4,274.3 L639.4,274.3 L640.4,274.4 L641.4,274.4 L642.4,274.4 L643.4,274.4 L644.4,274.4 L645.4,274.5 L646.4,274.5 L647.4,274.5 L648.4,274.5 L649.4,274.5 L650.4,274.6 L651.4,274.6 L652.4,274.6 L653.4,274.6 L654.4,274.7 L655.4,274.7 L656.4,274.7 L657.4,274.7 L658.4,274.7 L659.4,274.8 L660.4,274.8 L661.4,274.8 L662.4,274.8 L663.4,274.8 L664.4,274.9 L665.4,274.9 L666.4,274.9 L667.4,274.9 L668.4,274.9 L669.4,275.0 L670.4,275.0 L671.4,275.0 L672.4,275.0 L673.4,275.0 L674.4,275.1 L675.4,275.1 L676.4,275.1 L677.4,275.1 L678.4,275.1 L679.4,275.2 L680.4,275.2 L681.4,275.2 L682.4,275.2 L683.4,275.2 L684.4,275.2 L685.4,275.3 L686.4,275.3 L687.4,275.3 L688.4,275.3 L689.4,275.3 L690.4,275.4 L691.4,275.4 L692.4,275.4 L693.4,275.4 L694.4,275.4 L695.4,275.5 L696.4,275.5 L697.4,275.5 L698.4,275.5 L699.4,275.5 L700.4,275.6 L701.4,275.6 L702.4,275.6 L703.4,275.6 L704.4,275.6 L705.4,275.7 L706.4,275.7 L707.4,275.7 L708.4,275.7 L709.4,275.7 L710.4,275.8 L711.4,275.8 L712.4,275.8 L713.4,275.8 L714.4,275.8 L715.4,275.8 L716.4,275.9 L717.4,275.9 L718.4,275.9 L719.4,275.9 L720.4,275.9 L721.4,276.0 L722.4,276.0 L723.4,276.0 L724.4,276.0 L725.4,276.0 L726.4,276.1 L727.4,276.1 L728.4,276.1 L729.4,276.1 L730.4,276.1 L731.4,276.2 L732.4,276.2 L733.4,276.2 L734.4,276.2 L735.4,276.2 L736.4,276.3 L737.4,276.3 L738.4,276.3 L739.4,276.3 L740.4,276.3 L741.4,276.4 L742.4,276.4 L743.4,276.4 L744.4,276.4 L745.4,276.4 L746.4,276.5 L747.4,276.5 L748.4,276.5 L749.4,276.5 L750.4,276.5 L751.4,276.6 L752.4,276.6 L753.4,276.6 L754.4,276.6 L755.4,276.6 L756.4,276.7 L757.4,276.7 L758.4,276.7 L759.4,276.7 L760.4,276.8 L761.4,276.8 L762.4,276.8 L763.4,276.8 L764.4,276.8 L765.4,276.9 L766.4,276.9 L767.4,276.9 L768.4,276.9 L769.4,277.0 L770.4,277.0 L771.4,277.0 L772.4,277.0 L773.4,277.0 L774.4,277.1 L775.4,277.1 L776.4,277.1 L777.4,277.1 L778.4,277.2 L779.4,277.2 L780.4,277.2 L781.4,277.2 L782.4,277.2 L783.4,277.3 L784.4,277.3 L785.4,277.3 L786.4,277.3 L787.4,277.4 L788.4,277.4 L789.4,277.4 L790.4,277.4 L791.4,277.5 L792.4,277.5 L793.4,277.5 L794.4,277.5 L795.4,277.6 L796.4,277.6 L797.4,277.6 L798.4,277.6 L799.4,277.7 L800.4,277.7 L801.4,277.7 L802.4,277.7 L803.4,277.8 L804.4,277.8 L805.4,277.8 L806.4,277.8 L807.4,277.9 L808.4,277.9 L809.4,277.9 L810.4,277.9 L811.4,278.0 L812.4,278.0 L813.4,278.0 L814.4,278.1 L815.4,278.1 L816.4,278.1 L817.4,278.1 L818.4,278.2 L819.4,278.2 L820.4,278.2 L821.4,278.3 L822.4,278.3 L823.4,278.3 L824.4,278.3 L825.5,278.4 L826.5,278.4 L827.5,278.4 L828.5,278.5 L829.5,278.5 L830.5,278.5 L831.5,278.5 L832.5,278.6 L833.5,278.6 L834.5,278.6 L835.5,278.7 L836.5,278.7 L837.5,278.7 L838.5,278.8 L839.5,278.8 L840.5,278.8 L841.5,278.9 L842.5,278.9 L843.5,278.9 L844.5,278.9 L845.5,279.0 L846.5,279.0 L847.5,279.0 L848.5,279.1 L849.5,279.1 L850.5,279.1 L851.5,279.2 L852.5,279.2 L853.5,279.2 L854.5,279.3 L855.5,279.3 L856.6,279.3 L857.6,279.4 L858.6,279.4 L859.6,279.5 L860.6,279.5 L861.6,279.5 L862.6,279.6 L863.6,279.6 L864.6,279.6 L865.6,279.7 L866.6,279.7 L867.6,279.7 L868.6,279.8 L869.6,279.8 L870.6,279.9 L871.6,279.9 L872.6,279.9 L873.6,280.0 L874.6,280.0 L875.6,280.0 L876.6,280.1" fill="none" stroke="#cc2229" stroke-width="3.9"/>
<path d="M68.9,442.9 L69.1,441.9 L69.2,441.0 L69.4,440.0 L69.6,439.0 L69.8,438.0 L70.0,437.0 L70.1,436.0 L70.3,435.1 L70.5,434.1 L70.7,433.1 L70.9,432.1 L71.2,431.1 L71.4,430.2 L71.6,429.2 L71.8,428.2 L72.0,427.2 L72.3,426.3 L72.5,425.3 L72.8,424.3 L73.0,423.4 L73.3,422.4 L73.5,421.4 L73.8,420.5 L74.0,419.5 L74.3,418.5 L74.6,417.6 L74.9,416.6 L75.1,415.6 L75.4,414.7 L75.7,413.7 L76.0,412.8 L76.3,411.8 L76.6,410.9 L76.9,409.9 L77.2,409.0 L77.6,408.0 L77.9,407.1 L78.2,406.1 L78.5,405.2 L78.9,404.2 L79.2,403.3 L79.6,402.3 L79.9,401.4 L80.3,400.5 L80.6,399.5 L81.0,398.6 L81.4,397.7 L81.7,396.7 L82.1,395.8 L82.5,394.9 L82.9,394.0 L83.3,393.0 L83.7,392.1 L84.1,391.2 L84.5,390.3 L84.9,389.4 L85.3,388.4 L85.7,387.5 L86.1,386.6 L86.6,385.7 L87.0,384.8 L87.4,383.9 L87.9,383.0 L88.3,382.1 L88.7,381.2 L89.2,380.3 L89.7,379.4 L90.1,378.6 L90.6,377.7 L91.1,376.8 L91.5,375.9 L92.0,375.0 L92.5,374.2 L93.0,373.3 L93.5,372.4 L94.0,371.5 L94.5,370.7 L95.0,369.8 L95.5,369.0 L96.0,368.1 L96.5,367.2 L97.0,366.4 L97.6,365.5 L98.1,364.7 L98.6,363.9 L99.2,363.0 L99.7,362.2 L100.3,361.3 L100.8,360.5 L101.4,359.7 L102.0,358.8 L102.5,358.0 L103.1,357.2 L103.7,356.4 L104.3,355.6 L104.8,354.8 L105.4,354.0 L106.0,353.2 L106.6,352.4 L107.2,351.6 L107.8,350.8 L108.4,350.0 L109.1,349.2 L109.7,348.4 L110.3,347.6 L110.9,346.8 L111.6,346.1 L112.2,345.3 L112.8,344.5 L113.5,343.8 L114.1,343.0 L114.8,342.2 L115.5,341.5 L116.1,340.7 L116.8,340.0 L117.5,339.2 L118.1,338.5 L118.8,337.8 L119.5,337.0 L120.2,336.3 L120.9,335.6 L121.6,334.9 L122.3,334.2 L123.0,333.4 L123.7,332.7 L124.4,332.0 L125.2,331.3 L125.9,330.6 L126.6,329.9 L127.3,329.3 L128.1,328.6 L128.8,327.9 L129.6,327.2 L130.3,326.5 L131.1,325.9 L131.8,325.2 L132.6,324.6 L133.4,323.9 L134.1,323.3 L134.9,322.6 L135.7,322.0 L136.5,321.3 L137.3,320.7 L138.1,320.1 L138.9,319.5 L139.6,318.9 L140.4,318.2 L141.3,317.6 L142.1,317.0 L142.9,316.4 L143.7,315.9 L144.5,315.3 L145.3,314.7 L146.2,314.1 L147.0,313.6 L147.8,313.0 L148.7,312.4 L149.5,311.9 L150.3,311.4 L151.2,310.8 L152.0,310.3 L152.9,309.8 L153.8,309.2 L154.6,308.7 L155.5,308.2 L156.3,307.7 L157.2,307.2 L158.1,306.7 L159.0,306.3 L159.8,305.8 L160.7,305.3 L161.6,304.8 L162.5,304.4 L163.4,303.9 L164.3,303.5 L165.2,303.1 L166.1,302.6 L167.0,302.2 L167.9,301.8 L168.8,301.4 L169.7,301.0 L170.6,300.6 L171.5,300.2 L172.4,299.8 L173.4,299.4 L174.3,299.1 L175.2,298.7 L176.1,298.3 L177.1,298.0 L178.0,297.6 L178.9,297.3 L179.9,297.0 L180.8,296.6 L181.7,296.3 L182.7,296.0 L183.6,295.7 L184.6,295.4 L185.5,295.1 L186.5,294.8 L187.4,294.5 L188.4,294.2 L189.3,294.0 L190.3,293.7 L191.2,293.4 L192.2,293.2 L193.2,292.9 L194.1,292.7 L195.1,292.4 L196.1,292.2 L197.0,292.0 L198.0,291.7 L199.0,291.5 L199.9,291.3 L200.9,291.1 L201.9,290.9 L202.9,290.7 L203.8,290.5 L204.8,290.3 L205.8,290.1 L206.8,290.0 L207.8,289.8 L208.7,289.6 L209.7,289.5 L210.7,289.3 L211.7,289.2 L212.7,289.0 L213.7,288.9 L214.7,288.7 L215.7,288.6 L216.6,288.5 L217.6,288.4 L218.6,288.2 L219.6,288.1 L220.6,288.0 L221.6,287.9 L222.6,287.8 L223.6,287.7 L224.6,287.6 L225.6,287.6 L226.6,287.5 L227.6,287.4 L228.6,287.3 L229.6,287.3 L230.6,287.2 L231.6,287.1 L232.6,287.1 L233.6,287.0 L234.6,287.0 L235.6,286.9 L236.6,286.9 L237.6,286.8 L238.6,286.8 L239.6,286.7 L240.6,286.7 L241.6,286.7 L242.6,286.6 L243.6,286.6 L244.6,286.6 L245.6,286.5 L246.6,286.5 L247.6,286.5 L248.6,286.5 L249.6,286.5 L250.6,286.5 L251.6,286.4 L252.6,286.4 L253.6,286.4 L254.6,286.4 L255.7,286.4 L256.7,286.4 L257.7,286.4 L258.7,286.4 L259.7,286.4 L260.7,286.4 L261.7,286.4 L262.7,286.4 L263.7,286.4 L264.7,286.4 L265.7,286.4 L266.7,286.4 L267.7,286.4 L268.7,286.4 L269.7,286.4 L270.8,286.4 L271.8,286.4 L272.8,286.4 L273.8,286.4 L274.8,286.4 L275.8,286.4 L276.8,286.4 L277.8,286.4 L278.8,286.4 L279.8,286.4 L280.8,286.4 L281.8,286.4 L282.8,286.4 L283.8,286.4 L284.8,286.4 L285.8,286.4 L286.8,286.4 L287.9,286.4 L288.9,286.4 L289.9,286.4 L290.9,286.4 L291.9,286.4 L292.9,286.4 L293.9,286.4 L294.9,286.4 L295.9,286.4 L296.9,286.4 L297.9,286.4 L298.9,286.4 L299.9,286.4 L300.9,286.4 L301.9,286.4 L302.9,286.4 L303.9,286.4 L304.9,286.4 L305.9,286.4 L306.9,286.4 L307.9,286.4 L309.0,286.4 L310.0,286.4 L311.0,286.4 L312.0,286.4 L313.0,286.4 L314.0,286.4 L315.0,286.4 L316.0,286.4 L317.0,286.4 L318.0,286.4 L319.0,286.4 L320.0,286.4 L321.0,286.4 L322.0,286.4 L323.0,286.4 L324.0,286.4 L325.0,286.4 L326.0,286.4 L327.0,286.4 L328.0,286.4 L329.0,286.4 L330.0,286.4 L331.0,286.4 L332.0,286.4 L333.0,286.4 L334.0,286.4 L335.0,286.4 L336.0,286.4 L337.0,286.4 L338.0,286.4 L339.0,286.4 L340.0,286.4 L341.0,286.4 L342.0,286.4 L343.1,286.4 L344.1,286.4 L345.1,286.4 L346.1,286.4 L347.1,286.4 L348.1,286.4 L349.1,286.4 L350.1,286.4 L351.1,286.4 L352.1,286.4 L353.1,286.4 L354.1,286.4 L355.1,286.4 L356.1,286.4 L357.1,286.4 L358.1,286.4 L359.1,286.4 L360.1,286.4 L361.1,286.4 L362.1,286.4 L363.1,286.4 L364.1,286.4 L365.1,286.4 L366.1,286.4 L367.1,286.4 L368.1,286.4 L369.1,286.4 L370.1,286.4 L371.1,286.4 L372.1,286.4 L373.1,286.4 L374.1,286.4 L375.1,286.4 L376.1,286.4 L377.1,286.4 L378.1,286.4 L379.1,286.4 L380.1,286.4 L381.1,286.4 L382.1,286.4 L383.1,286.4 L384.1,286.4 L385.1,286.4 L386.1,286.4 L387.1,286.4 L388.1,286.4 L389.1,286.4 L390.1,286.4 L391.1,286.4 L392.1,286.4 L393.1,286.4 L394.1,286.4 L395.1,286.4 L396.1,286.4 L397.1,286.4 L398.1,286.4 L399.1,286.4 L400.1,286.4 L401.1,286.4 L402.1,286.4 L403.1,286.4 L404.1,286.4 L405.1,286.4 L406.1,286.4 L407.1,286.4 L408.1,286.4 L409.1,286.4 L410.1,286.4 L411.1,286.4 L412.1,286.4 L413.1,286.4 L414.1,286.4 L415.1,286.4 L416.1,286.4 L417.1,286.4 L418.1,286.4 L419.1,286.4 L420.1,286.4 L421.1,286.4 L422.1,286.4 L423.1,286.4 L424.1,286.4 L425.1,286.4 L426.1,286.4 L427.1,286.4 L428.1,286.4 L429.1,286.4 L430.1,286.4 L431.1,286.4 L432.1,286.4 L433.1,286.4 L434.1,286.4 L435.1,286.4 L436.1,286.4 L437.1,286.4 L438.1,286.4 L439.1,286.4 L440.1,286.4 L441.1,286.4 L442.1,286.4 L443.1,286.4 L444.1,286.4 L445.1,286.4 L446.1,286.4 L447.1,286.4 L448.1,286.5 L449.1,286.5 L450.1,286.5 L451.1,286.5 L452.1,286.5 L453.1,286.5 L454.1,286.5 L455.1,286.5 L456.1,286.5 L457.1,286.5 L458.1,286.5 L459.1,286.5 L460.1,286.5 L461.1,286.5 L462.1,286.5 L463.1,286.5 L464.1,286.5 L465.1,286.5 L466.1,286.5 L467.1,286.5 L468.1,286.6 L469.1,286.6 L470.1,286.6 L471.1,286.6 L472.1,286.6 L473.1,286.6 L474.1,286.6 L475.1,286.6 L476.1,286.6 L477.1,286.6 L478.1,286.6 L479.1,286.6 L480.1,286.6 L481.1,286.6 L482.1,286.6 L483.1,286.7 L484.1,286.7 L485.1,286.7 L486.1,286.7 L487.1,286.7 L488.1,286.7 L489.1,286.7 L490.1,286.7 L491.1,286.7 L492.1,286.7 L493.1,286.7 L494.1,286.7 L495.1,286.8 L496.1,286.8 L497.1,286.8 L498.1,286.8 L499.1,286.8 L500.1,286.8 L501.1,286.8 L502.1,286.8 L503.1,286.8 L504.1,286.9 L505.1,286.9 L506.1,286.9 L507.1,286.9 L508.1,286.9 L509.1,286.9 L510.1,286.9 L511.1,286.9 L512.1,286.9 L513.1,287.0 L514.1,287.0 L515.1,287.0 L516.1,287.0 L517.1,287.0 L518.1,287.0 L519.1,287.0 L520.1,287.0 L521.1,287.1 L522.1,287.1 L523.1,287.1 L524.1,287.1 L525.1,287.1 L526.1,287.1 L527.1,287.1 L528.1,287.1 L529.1,287.2 L530.1,287.2 L531.1,287.2 L532.1,287.2 L533.1,287.2 L534.1,287.2 L535.1,287.2 L536.1,287.3 L537.1,287.3 L538.1,287.3 L539.1,287.3 L540.1,287.3 L541.1,287.3 L542.1,287.3 L543.1,287.4 L544.1,287.4 L545.1,287.4 L546.1,287.4 L547.1,287.4 L548.1,287.4 L549.1,287.5 L550.1,287.5 L551.1,287.5 L552.1,287.5 L553.1,287.5 L554.1,287.5 L555.1,287.6 L556.1,287.6 L557.1,287.6 L558.1,287.6 L559.1,287.6 L560.1,287.6 L561.1,287.7 L562.1,287.7 L563.1,287.7 L564.1,287.7 L565.1,287.7 L566.1,287.7 L567.1,287.8 L568.1,287.8 L569.1,287.8 L570.1,287.8 L571.1,287.8 L572.1,287.8 L573.1,287.9 L574.1,287.9 L575.1,287.9 L576.2,287.9 L577.2,287.9 L578.2,287.9 L579.2,288.0 L580.2,288.0 L581.2,288.0 L582.2,288.0 L583.2,288.0 L584.2,288.1 L585.2,288.1 L586.2,288.1 L587.2,288.1 L588.2,288.1 L589.2,288.1 L590.2,288.2 L591.2,288.2 L592.2,288.2 L593.2,288.2 L594.2,288.2 L595.2,288.3 L596.2,288.3 L597.2,288.3 L598.2,288.3 L599.2,288.3 L600.2,288.3 L601.2,288.4 L602.2,288.4 L603.2,288.4 L604.2,288.4 L605.2,288.4 L606.2,288.5 L607.2,288.5 L608.2,288.5 L609.2,288.5 L610.2,288.5 L611.2,288.5 L612.2,288.6 L613.2,288.6 L614.2,288.6 L615.2,288.6 L616.2,288.6 L617.2,288.7 L618.2,288.7 L619.2,288.7 L620.2,288.7 L621.2,288.7 L622.2,288.7 L623.2,288.8 L624.2,288.8 L625.2,288.8 L626.2,288.8 L627.3,288.8 L628.3,288.9 L629.3,288.9 L630.3,288.9 L631.3,288.9 L632.3,288.9 L633.3,288.9 L634.3,289.0 L635.3,289.0 L636.3,289.0 L637.3,289.0 L638.3,289.0 L639.3,289.1 L640.3,289.1 L641.3,289.1 L642.3,289.1 L643.3,289.1 L644.3,289.1 L645.3,289.2 L646.3,289.2 L647.3,289.2 L648.3,289.2 L649.3,289.2 L650.3,289.2 L651.3,289.3 L652.3,289.3 L653.3,289.3 L654.3,289.3 L655.3,289.3 L656.3,289.4 L657.3,289.4 L658.3,289.4 L659.3,289.4 L660.3,289.4 L661.3,289.4 L662.3,289.5 L663.3,289.5 L664.3,289.5 L665.3,289.5 L666.3,289.5 L667.3,289.5 L668.3,289.6 L669.3,289.6 L670.3,289.6 L671.4,289.6 L672.4,289.6 L673.4,289.6 L674.4,289.7 L675.4,289.7 L676.4,289.7 L677.4,289.7 L678.4,289.7 L679.4,289.7 L680.4,289.7 L681.4,289.8 L682.4,289.8 L683.4,289.8 L684.4,289.8 L685.4,289.8 L686.4,289.8 L687.4,289.9 L688.4,289.9 L689.4,289.9 L690.4,289.9 L691.4,289.9 L692.4,289.9 L693.4,289.9 L694.4,290.0 L695.4,290.0 L696.4,290.0 L697.4,290.0 L698.4,290.0 L699.4,290.0 L700.4,290.0 L701.4,290.0 L702.4,290.1 L703.4,290.1 L704.4,290.1 L705.4,290.1 L706.4,290.1 L707.4,290.1 L708.4,290.1 L709.4,290.1 L710.4,290.2 L711.4,290.2 L712.4,290.2 L713.4,290.2 L714.4,290.2 L715.4,290.2 L716.5,290.2 L717.5,290.2 L718.5,290.3 L719.5,290.3 L720.5,290.3 L721.5,290.3 L722.5,290.3 L723.5,290.3 L724.5,290.3 L725.5,290.3 L726.5,290.3 L727.5,290.3 L728.5,290.4 L729.5,290.4 L730.5,290.4 L731.5,290.4 L732.5,290.4 L733.5,290.4 L734.5,290.4 L735.5,290.4 L736.5,290.4 L737.5,290.4 L738.5,290.4 L739.5,290.5 L740.5,290.5 L741.5,290.5 L742.5,290.5 L743.5,290.5 L744.5,290.5 L745.5,290.5 L746.5,290.5 L747.5,290.5 L748.5,290.5 L749.5,290.5 L750.5,290.5 L751.5,290.5 L752.5,290.5 L753.5,290.5 L754.5,290.6 L755.5,290.6 L756.5,290.6 L757.5,290.6 L758.5,290.6 L759.5,290.6 L760.5,290.6 L761.5,290.6 L762.5,290.6 L763.5,290.6 L764.5,290.6 L765.5,290.6 L766.5,290.6 L767.5,290.6 L768.5,290.6 L769.6,290.6 L770.6,290.6 L771.6,290.6 L772.6,290.6 L773.6,290.6 L774.6,290.6 L775.6,290.6 L776.6,290.6 L777.6,290.6 L778.6,290.6 L779.6,290.6 L780.6,290.6 L781.6,290.6 L782.6,290.6 L783.6,290.6 L784.6,290.6 L785.6,290.6 L786.6,290.6 L787.6,290.6 L788.6,290.6 L789.6,290.6 L790.6,290.6 L791.6,290.6 L792.6,290.6 L793.6,290.6 L794.6,290.6 L795.6,290.6 L796.6,290.6 L797.6,290.6 L798.6,290.6 L799.6,290.6 L800.6,290.6 L801.6,290.6 L802.6,290.6 L803.6,290.6 L804.6,290.6 L805.6,290.6 L806.6,290.5 L807.6,290.5 L808.6,290.5 L809.6,290.5 L810.6,290.5 L811.6,290.5 L812.6,290.5 L813.6,290.5 L814.6,290.5 L815.6,290.5 L816.6,290.5 L817.6,290.5 L818.6,290.5 L819.6,290.4 L820.6,290.4 L821.6,290.4 L822.6,290.4 L823.6,290.4 L824.6,290.4 L825.6,290.4 L826.6,290.4 L827.6,290.4 L828.6,290.3 L829.6,290.3 L830.6,290.3 L831.6,290.3 L832.6,290.3 L833.6,290.3 L834.6,290.3 L835.6,290.3 L836.6,290.2 L837.6,290.2 L838.6,290.2 L839.6,290.2 L840.6,290.2 L841.6,290.2 L842.6,290.2 L843.6,290.1 L844.6,290.1 L845.6,290.1 L846.6,290.1 L847.6,290.1 L848.6,290.1 L849.6,290.0 L850.6,290.0 L851.6,290.0 L852.6,290.0 L853.6,290.0 L854.6,289.9 L855.6,289.9 L856.6,289.9 L857.6,289.9 L858.6,289.9 L859.6,289.8 L860.6,289.8 L861.6,289.8 L862.6,289.8 L863.6,289.7 L864.6,289.7 L865.6,289.7 L866.6,289.7 L867.6,289.7 L868.6,289.6 L869.6,289.6 L870.6,289.6 L871.6,289.6 L872.6,289.5 L873.6,289.5 L874.6,289.5 L875.6,289.5 L876.6,289.4 L877.6,289.4 L878.6,289.4 L879.6,289.3 L880.6,289.3 L881.6,289.3 L882.6,289.3" fill="none" stroke="#313890" stroke-width="3.9"/>
<line x1="64.6" y1="280" x2="915" y2="280" stroke="#231f20" stroke-width="3.6" stroke-dasharray="8.3 8.37" stroke-dashoffset="4.2"/>
<path d="M64.4,455.6 L65.3,456.0 L66.2,456.3 L67.2,456.6 L68.1,456.8 L69.2,456.9 L70.2,457.0 L71.3,457.0 L72.3,456.9 L73.4,456.8 L74.4,456.6 L75.4,456.3 L76.4,456.0 L77.3,455.6 L78.1,455.1 L78.9,454.5 L79.6,453.9 L80.2,453.1 L80.8,452.4 L81.3,451.5 L81.8,450.7 L82.2,449.8 L82.5,448.8 L82.8,447.8 L83.1,446.8 L83.3,445.8 L83.6,444.8 L83.7,443.8 L83.9,442.8 L84.1,441.8 L84.2,440.8 L84.3,439.8 L84.5,438.8 L84.6,437.8 L84.7,436.8 L84.8,435.8 L84.9,434.9 L85.0,433.9 L85.1,432.9 L85.2,431.9 L85.3,430.9 L85.4,429.9 L85.5,428.9 L85.7,427.9 L85.8,426.9 L85.9,425.9 L86.0,424.9 L86.1,423.9 L86.2,423.0 L86.3,422.0 L86.4,421.0 L86.5,420.0 L86.6,419.0 L86.8,418.0 L86.9,417.0 L87.0,416.0 L87.1,415.0 L87.2,414.0 L87.3,413.0 L87.4,412.0 L87.5,411.0 L87.7,410.1 L87.8,409.1 L87.9,408.1 L88.0,407.1 L88.1,406.1 L88.2,405.1 L88.3,404.1 L88.4,403.1 L88.6,402.1 L88.7,401.1 L88.8,400.1 L88.9,399.1 L89.0,398.1 L89.1,397.1 L89.2,396.1 L89.4,395.2 L89.5,394.2 L89.6,393.2 L89.7,392.2 L89.8,391.2 L89.9,390.2 L90.1,389.2 L90.2,388.2 L90.3,387.2 L90.4,386.2 L90.5,385.2 L90.6,384.2 L90.8,383.2 L90.9,382.2 L91.0,381.2 L91.1,380.2 L91.2,379.3 L91.3,378.3 L91.5,377.3 L91.6,376.3 L91.7,375.3 L91.8,374.3 L91.9,373.3 L92.1,372.3 L92.2,371.3 L92.3,370.3 L92.4,369.3 L92.5,368.3 L92.7,367.3 L92.8,366.3 L92.9,365.3 L93.0,364.3 L93.1,363.3 L93.3,362.4 L93.4,361.4 L93.5,360.4 L93.6,359.4 L93.7,358.4 L93.9,357.4 L94.0,356.4 L94.1,355.4 L94.2,354.4 L94.4,353.4 L94.5,352.4 L94.6,351.4 L94.7,350.4 L94.8,349.4 L95.0,348.4 L95.1,347.4 L95.2,346.4 L95.3,345.4 L95.5,344.4 L95.6,343.5 L95.7,342.5 L95.8,341.5 L96.0,340.5 L96.1,339.5 L96.2,338.5 L96.3,337.5 L96.4,336.5 L96.6,335.5 L96.7,334.5 L96.8,333.5 L96.9,332.5 L97.1,331.5 L97.2,330.5 L97.3,329.5 L97.4,328.5 L97.6,327.5 L97.7,326.5 L97.8,325.5 L97.9,324.5 L98.1,323.6 L98.2,322.6 L98.3,321.6 L98.5,320.6 L98.6,319.6 L98.7,318.6 L98.8,317.6 L99.0,316.6 L99.1,315.6 L99.2,314.6 L99.3,313.6 L99.5,312.6 L99.6,311.6 L99.7,310.6 L99.9,309.6 L100.0,308.6 L100.1,307.6 L100.2,306.6 L100.4,305.6 L100.5,304.6 L100.6,303.6 L100.7,302.7 L100.9,301.7 L101.0,300.7 L101.1,299.7 L101.3,298.7 L101.4,297.7 L101.5,296.7 L101.6,295.7 L101.8,294.7 L101.9,293.7 L102.0,292.7 L102.2,291.7 L102.3,290.7 L102.4,289.7 L102.6,288.7 L102.7,287.7 L102.8,286.7 L102.9,285.7 L103.1,284.7 L103.2,283.7 L103.3,282.8 L103.5,281.8 L103.6,280.8 L103.7,279.8 L103.9,278.8 L104.0,277.8 L104.1,276.8 L104.2,275.8 L104.4,274.8 L104.5,273.8 L104.6,272.8 L104.8,271.8 L104.9,270.8 L105.0,269.8 L105.2,268.8 L105.3,267.8 L105.4,266.8 L105.6,265.8 L105.7,264.8 L105.8,263.8 L105.9,262.9 L106.1,261.9 L106.2,260.9 L106.3,259.9 L106.5,258.9 L106.6,257.9 L106.7,256.9 L106.9,255.9 L107.0,254.9 L107.1,253.9 L107.3,252.9 L107.4,251.9 L107.5,250.9 L107.7,249.9 L107.8,248.9 L107.9,247.9 L108.1,246.9 L108.2,245.9 L108.3,244.9 L108.5,244.0 L108.6,243.0 L108.7,242.0 L108.9,241.0 L109.0,240.0 L109.1,239.0 L109.3,238.0 L109.4,237.0 L109.5,236.0 L109.7,235.0 L109.8,234.0 L109.9,233.0 L110.1,232.0 L110.2,231.0 L110.3,230.0 L110.5,229.0 L110.6,228.0 L110.7,227.1 L110.9,226.1 L111.0,225.1 L111.1,224.1 L111.3,223.1 L111.4,222.1 L111.5,221.1 L111.7,220.1 L111.8,219.1 L111.9,218.1 L112.1,217.1 L112.2,216.1 L112.3,215.1 L112.5,214.1 L112.6,213.1 L112.7,212.1 L112.9,211.2 L113.0,210.2 L113.1,209.2 L113.3,208.2 L113.4,207.2 L113.5,206.2 L113.7,205.2 L113.8,204.2 L113.9,203.2 L114.1,202.2 L114.2,201.2 L114.4,200.2 L114.5,199.2 L114.6,198.3 L114.8,197.3 L114.9,196.3 L115.0,195.3 L115.2,194.3 L115.3,193.3 L115.5,192.3 L115.6,191.3 L115.7,190.3 L115.9,189.3 L116.0,188.3 L116.2,187.3 L116.3,186.3 L116.4,185.4 L116.6,184.4 L116.7,183.4 L116.9,182.4 L117.0,181.4 L117.2,180.4 L117.3,179.4 L117.5,178.4 L117.6,177.4 L117.8,176.4 L117.9,175.5 L118.0,174.5 L118.2,173.5 L118.3,172.5 L118.5,171.5 L118.6,170.5 L118.8,169.5 L119.0,168.5 L119.1,167.5 L119.3,166.6 L119.4,165.6 L119.6,164.6 L119.7,163.6 L119.9,162.6 L120.0,161.6 L120.2,160.6 L120.4,159.6 L120.5,158.7 L120.7,157.7 L120.8,156.7 L121.0,155.7 L121.2,154.7 L121.3,153.7 L121.5,152.7 L121.7,151.7 L121.8,150.8 L122.0,149.8 L122.2,148.8 L122.3,147.8 L122.5,146.8 L122.7,145.8 L122.9,144.9 L123.0,143.9 L123.2,142.9 L123.4,141.9 L123.6,140.9 L123.8,139.9 L123.9,139.0 L124.1,138.0 L124.3,137.0 L124.5,136.0 L124.7,135.0 L124.8,134.0 L125.0,133.1 L125.2,132.1 L125.4,131.1 L125.6,130.1 L125.8,129.1 L126.0,128.2 L126.2,127.2 L126.4,126.2 L126.6,125.2 L126.8,124.2 L127.0,123.3 L127.2,122.3 L127.4,121.3 L127.6,120.3 L127.8,119.3 L128.0,118.4 L128.2,117.4 L128.4,116.4 L128.6,115.4 L128.8,114.5 L129.0,113.5 L129.3,112.5 L129.5,111.5 L129.7,110.6 L129.9,109.6 L130.1,108.6 L130.4,107.6 L130.6,106.7 L130.8,105.7 L131.0,104.7 L131.3,103.7 L131.5,102.8 L131.7,101.8 L132.0,100.8 L132.2,99.8 L132.4,98.9 L132.7,97.9 L132.9,96.9 L133.2,96.0 L133.4,95.0 L133.6,94.0 L133.9,93.1 L134.1,92.1 L134.4,91.1 L134.6,90.1 L134.9,89.2 L135.2,88.2 L135.4,87.2 L135.7,86.3 L135.9,85.3 L136.2,84.3 L136.5,83.4 L136.7,82.4 L137.0,81.4 L137.3,80.5 L137.5,79.5 L137.8,78.5 L138.1,77.6 L138.4,76.6 L138.7,75.7 L138.9,74.7 L139.2,73.7 L139.5,72.8 L139.8,71.8 L140.1,70.8 L140.4,69.9 L140.7,68.9 L141.0,68.0 L141.3,67.0 L141.6,66.0 L141.9,65.1 L142.2,64.1 L142.5,63.2 L142.8,62.2 L143.1,61.3 L143.4,60.3 L143.7,59.3 L144.1,58.4 L144.4,57.4 L144.7,56.5 L145.0,55.5 L145.4,54.6 L145.7,53.6 L146.0,52.7 L146.3,51.7 L146.7,50.8 L147.0,49.8 L147.4,48.9 L147.7,47.9 L148.1,47.0 L148.5,46.1 L148.9,45.1 L149.3,44.2 L149.7,43.3 L150.2,42.4 L150.6,41.5 L151.1,40.6 L151.6,39.8 L152.1,38.9 L152.7,38.1 L153.3,37.2 L153.9,36.4 L154.5,35.6 L155.1,34.9 L155.8,34.1 L156.6,33.4 L157.3,32.7 L158.1,32.1 L158.9,31.7 L159.8,31.4 L160.7,31.3 L161.6,31.3 L162.5,31.5 L163.4,31.8 L164.4,32.2 L165.3,32.7 L166.2,33.2 L167.1,33.8 L168.0,34.4 L168.9,35.0 L169.7,35.7 L170.5,36.4 L171.3,37.0 L172.1,37.7 L172.9,38.4 L173.6,39.1 L174.3,39.8 L175.0,40.5 L175.7,41.2 L176.4,41.9 L177.1,42.6 L177.7,43.4 L178.4,44.1 L179.0,44.8 L179.7,45.6 L180.3,46.3 L180.9,47.1 L181.6,47.8 L182.2,48.6 L182.8,49.3 L183.4,50.1 L184.1,50.9 L184.7,51.6 L185.3,52.4 L185.9,53.2 L186.5,54.0 L187.1,54.8 L187.7,55.6 L188.3,56.3 L188.9,57.1 L189.5,57.9 L190.1,58.7 L190.7,59.6 L191.3,60.4 L191.8,61.2 L192.4,62.0 L193.0,62.8 L193.6,63.6 L194.1,64.5 L194.7,65.3 L195.3,66.1 L195.8,67.0 L196.4,67.8 L196.9,68.6 L197.5,69.5 L198.0,70.3 L198.6,71.2 L199.1,72.0 L199.6,72.9 L200.2,73.7 L200.7,74.6 L201.2,75.4 L201.8,76.3 L202.3,77.2 L202.8,78.0 L203.3,78.9 L203.9,79.7 L204.4,80.6 L204.9,81.5 L205.4,82.4 L205.9,83.2 L206.4,84.1 L206.9,85.0 L207.4,85.8 L207.9,86.7 L208.4,87.6 L208.9,88.5 L209.3,89.4 L209.8,90.2 L210.3,91.1 L210.8,92.0 L211.3,92.9 L211.7,93.8 L212.2,94.7 L212.7,95.5 L213.1,96.4 L213.6,97.3 L214.1,98.2 L214.5,99.1 L215.0,100.0 L215.4,100.9 L215.9,101.8 L216.3,102.7 L216.8,103.6 L217.3,104.4 L217.7,105.3 L218.2,106.2 L218.6,107.1 L219.1,108.0 L219.5,108.9 L219.9,109.8 L220.4,110.7 L220.8,111.6 L221.3,112.5 L221.7,113.4 L222.2,114.3 L222.6,115.2 L223.1,116.1 L223.5,117.0 L224.0,117.9 L224.4,118.8 L224.8,119.7 L225.3,120.6 L225.7,121.4 L226.2,122.3 L226.6,123.2 L227.1,124.1 L227.5,125.0 L228.0,125.9 L228.4,126.8 L228.9,127.7 L229.3,128.6 L229.8,129.5 L230.2,130.4 L230.7,131.3 L231.1,132.2 L231.6,133.1 L232.0,134.0 L232.5,134.9 L232.9,135.7 L233.4,136.6 L233.8,137.5 L234.3,138.4 L234.7,139.3 L235.2,140.2 L235.6,141.1 L236.1,142.0 L236.5,142.9 L237.0,143.8 L237.4,144.7 L237.9,145.5 L238.4,146.4 L238.8,147.3 L239.3,148.2 L239.7,149.1 L240.2,150.0 L240.7,150.9 L241.1,151.8 L241.6,152.7 L242.0,153.5 L242.5,154.4 L243.0,155.3 L243.4,156.2 L243.9,157.1 L244.4,158.0 L244.8,158.9 L245.3,159.7 L245.8,160.6 L246.2,161.5 L246.7,162.4 L247.2,163.3 L247.6,164.2 L248.1,165.0 L248.6,165.9 L249.1,166.8 L249.5,167.7 L250.0,168.6 L250.5,169.5 L251.0,170.3 L251.4,171.2 L251.9,172.1 L252.4,173.0 L252.9,173.8 L253.3,174.7 L253.8,175.6 L254.3,176.5 L254.8,177.4 L255.3,178.2 L255.8,179.1 L256.2,180.0 L256.7,180.9 L257.2,181.7 L257.7,182.6 L258.2,183.5 L258.7,184.4 L259.2,185.2 L259.7,186.1 L260.1,187.0 L260.6,187.8 L261.1,188.7 L261.6,189.6 L262.1,190.4 L262.6,191.3 L263.1,192.2 L263.6,193.0 L264.1,193.9 L264.6,194.8 L265.1,195.6 L265.6,196.5 L266.1,197.4 L266.6,198.2 L267.1,199.1 L267.6,200.0 L268.1,200.8 L268.7,201.7 L269.2,202.6 L269.7,203.4 L270.2,204.3 L270.7,205.1 L271.2,206.0 L271.7,206.8 L272.2,207.7 L272.8,208.6 L273.3,209.4 L273.8,210.3 L274.3,211.1 L274.8,212.0 L275.4,212.8 L275.9,213.7 L276.4,214.5 L276.9,215.4 L277.5,216.2 L278.0,217.1 L278.5,217.9 L279.1,218.8 L279.6,219.6 L280.1,220.5 L280.7,221.3 L281.2,222.2 L281.7,223.0 L282.3,223.9 L282.8,224.7 L283.4,225.6 L283.9,226.4 L284.4,227.2 L285.0,228.1 L285.5,228.9 L286.1,229.8 L286.6,230.6 L287.2,231.4 L287.7,232.3 L288.3,233.1 L288.9,233.9 L289.4,234.8 L290.0,235.6 L290.5,236.4 L291.1,237.3 L291.7,238.1 L292.2,238.9 L292.8,239.8 L293.3,240.6 L293.9,241.4 L294.5,242.2 L295.1,243.1 L295.6,243.9 L296.2,244.7 L296.8,245.5 L297.4,246.4 L297.9,247.2 L298.5,248.0 L299.1,248.8 L299.7,249.6 L300.3,250.5 L300.8,251.3 L301.4,252.1 L302.0,252.9 L302.6,253.7 L303.2,254.5 L303.8,255.3 L304.4,256.2 L305.0,257.0 L305.6,257.8 L306.2,258.6 L306.8,259.4 L307.4,260.2 L308.0,261.0 L308.6,261.8 L309.2,262.6 L309.8,263.4 L310.4,264.2 L311.1,265.0 L311.7,265.8 L312.3,266.6 L312.9,267.4 L313.5,268.2 L314.2,269.0 L314.8,269.8 L315.4,270.5 L316.1,271.3 L316.7,272.1 L317.3,272.9 L318.0,273.7 L318.6,274.4 L319.3,275.2 L319.9,276.0 L320.6,276.7 L321.2,277.5 L321.9,278.3 L322.5,279.0 L323.2,279.8 L323.8,280.5 L324.5,281.3 L325.2,282.0 L325.9,282.8 L326.5,283.5 L327.2,284.2 L327.9,285.0 L328.6,285.7 L329.3,286.4 L330.0,287.2 L330.7,287.9 L331.4,288.6 L332.1,289.3 L332.8,290.0 L333.5,290.7 L334.2,291.4 L334.9,292.1 L335.6,292.8 L336.4,293.5 L337.1,294.1 L337.8,294.8 L338.6,295.5 L339.3,296.1 L340.0,296.8 L340.8,297.5 L341.5,298.1 L342.3,298.8 L343.1,299.4 L343.8,300.0 L344.6,300.7 L345.4,301.3 L346.1,301.9 L346.9,302.5 L347.7,303.1 L348.5,303.7 L349.3,304.3 L350.1,304.9 L350.9,305.5 L351.7,306.1 L352.5,306.6 L353.4,307.2 L354.2,307.8 L355.0,308.3 L355.8,308.9 L356.7,309.4 L357.5,310.0 L358.3,310.5 L359.2,311.1 L360.0,311.6 L360.9,312.1 L361.7,312.6 L362.6,313.2 L363.4,313.7 L364.3,314.2 L365.2,314.7 L366.0,315.2 L366.9,315.7 L367.8,316.2 L368.6,316.7 L369.5,317.2 L370.4,317.6 L371.3,318.1 L372.2,318.6 L373.0,319.1 L373.9,319.6 L374.8,320.0 L375.7,320.5 L376.6,320.9 L377.5,321.4 L378.4,321.9 L379.3,322.3 L380.2,322.8 L381.1,323.2 L382.0,323.7 L382.9,324.1 L383.8,324.5 L384.7,325.0 L385.6,325.4 L386.5,325.9 L387.5,326.3 L388.4,326.7 L389.3,327.1 L390.2,327.6 L391.1,328.0 L392.0,328.4 L392.9,328.8 L393.8,329.3 L394.8,329.7 L395.7,330.1 L396.6,330.5 L397.5,330.9 L398.4,331.3 L399.3,331.8 L400.2,332.2 L401.2,332.6 L402.1,333.0 L403.0,333.4 L403.9,333.8 L404.8,334.2 L405.7,334.6 L406.6,335.0 L407.6,335.4 L408.5,335.8 L409.4,336.2 L410.3,336.6 L411.2,337.0 L412.1,337.4 L413.0,337.8 L414.0,338.2 L414.9,338.6 L415.8,339.0 L416.7,339.4 L417.6,339.8 L418.6,340.2 L419.5,340.5 L420.4,340.9 L421.3,341.3 L422.2,341.7 L423.1,342.1 L424.1,342.4 L425.0,342.8 L425.9,343.2 L426.8,343.6 L427.8,343.9 L428.7,344.3 L429.6,344.7 L430.5,345.0 L431.5,345.4 L432.4,345.8 L433.3,346.1 L434.3,346.5 L435.2,346.8 L436.1,347.2 L437.1,347.5 L438.0,347.9 L438.9,348.2 L439.9,348.6 L440.8,348.9 L441.8,349.2 L442.7,349.6 L443.7,349.9 L444.6,350.3 L445.6,350.6 L446.5,350.9 L447.5,351.2 L448.4,351.6 L449.4,351.9 L450.3,352.2 L451.3,352.5 L452.2,352.8 L453.2,353.1 L454.2,353.4 L455.1,353.7 L456.1,354.0 L457.1,354.3 L458.0,354.6 L459.0,354.9 L460.0,355.2 L461.0,355.5 L461.9,355.7 L462.9,356.0 L463.9,356.2 L464.9,356.4 L465.8,356.6 L466.8,356.8 L467.8,357.0 L468.8,357.2 L469.8,357.4 L470.8,357.5 L471.8,357.6 L472.7,357.7 L473.7,357.8 L474.7,357.9 L475.7,358.0 L476.7,358.0 L477.7,358.0 L478.7,358.0 L479.7,357.9 L480.7,357.9 L481.7,357.8 L482.6,357.7 L483.6,357.5 L484.6,357.4 L485.1,356.3 L485.3,355.3 L485.5,354.3 L485.7,353.4 L485.9,352.4 L486.1,351.4 L486.3,350.4 L486.5,349.4 L486.7,348.4 L486.8,347.4 L487.0,346.4 L487.2,345.4 L487.4,344.5 L487.6,343.5 L487.8,342.5 L487.9,341.5 L488.1,340.5 L488.3,339.5 L488.5,338.5 L488.6,337.5 L488.8,336.5 L489.0,335.6 L489.2,334.6 L489.3,333.6 L489.5,332.6 L489.7,331.6 L489.8,330.6 L490.0,329.6 L490.2,328.6 L490.3,327.6 L490.5,326.6 L490.7,325.7 L490.8,324.7 L491.0,323.7 L491.2,322.7 L491.3,321.7 L491.5,320.7 L491.6,319.7 L491.8,318.7 L492.0,317.7 L492.1,316.7 L492.3,315.8 L492.4,314.8 L492.6,313.8 L492.7,312.8 L492.9,311.8 L493.1,310.8 L493.2,309.8 L493.4,308.8 L493.5,307.8 L493.7,306.8 L493.8,305.9 L494.0,304.9 L494.1,303.9 L494.3,302.9 L494.4,301.9 L494.6,300.9 L494.7,299.9 L494.8,298.9 L495.0,297.9 L495.1,296.9 L495.3,295.9 L495.4,295.0 L495.6,294.0 L495.7,293.0 L495.9,292.0 L496.0,291.0 L496.1,290.0 L496.3,289.0 L496.4,288.0 L496.6,287.0 L496.7,286.0 L496.8,285.0 L497.0,284.1 L497.1,283.1 L497.3,282.1 L497.4,281.1 L497.5,280.1 L497.7,279.1 L497.8,278.1 L497.9,277.1 L498.1,276.1 L498.2,275.1 L498.3,274.1 L498.5,273.1 L498.6,272.2 L498.7,271.2 L498.9,270.2 L499.0,269.2 L499.1,268.2 L499.3,267.2 L499.4,266.2 L499.5,265.2 L499.7,264.2 L499.8,263.2 L499.9,262.2 L500.0,261.2 L500.2,260.2 L500.3,259.3 L500.4,258.3 L500.6,257.3 L500.7,256.3 L500.8,255.3 L501.0,254.3 L501.1,253.3 L501.2,252.3 L501.3,251.3 L501.5,250.3 L501.6,249.3 L501.7,248.3 L501.8,247.3 L502.0,246.3 L502.1,245.4 L502.2,244.4 L502.3,243.4 L502.5,242.4 L502.6,241.4 L502.7,240.4 L502.9,239.4 L503.0,238.4 L503.1,237.4 L503.2,236.4 L503.4,235.4 L503.5,234.4 L503.6,233.4 L503.7,232.4 L503.9,231.4 L504.0,230.5 L504.1,229.5 L504.2,228.5 L504.4,227.5 L504.5,226.5 L504.6,225.5 L504.7,224.5 L504.9,223.5 L505.0,222.5 L505.1,221.5 L505.2,220.5 L505.4,219.5 L505.5,218.5 L505.6,217.5 L505.7,216.5 L505.9,215.5 L506.0,214.5 L506.1,213.5 L506.2,212.5 L506.4,211.6 L506.5,210.6 L506.6,209.6 L506.8,208.6 L506.9,207.6 L507.0,206.6 L507.1,205.6 L507.3,204.6 L507.4,203.6 L507.5,202.6 L507.6,201.6 L507.8,200.6 L507.9,199.6 L508.0,198.6 L508.2,197.6 L508.3,196.6 L508.4,195.6 L508.6,194.6 L508.7,193.6 L508.8,192.6 L508.9,191.6 L509.1,190.6 L509.2,189.6 L509.3,188.6 L509.5,187.6 L509.6,186.7 L509.7,185.7 L509.9,184.7 L510.0,183.7 L510.1,182.7 L510.3,181.7 L510.4,180.7 L510.5,179.7 L510.7,178.7 L510.8,177.7 L510.9,176.7 L511.1,175.7 L511.2,174.7 L511.4,173.7 L511.5,172.7 L511.6,171.7 L511.8,170.7 L511.9,169.7 L512.1,168.7 L512.2,167.7 L512.3,166.7 L512.5,165.7 L512.6,164.7 L512.8,163.7 L512.9,162.7 L513.1,161.7 L513.2,160.7 L513.3,159.7 L513.5,158.7 L513.6,157.7 L513.8,156.7 L513.9,155.7 L514.1,154.7 L514.2,153.7 L514.4,152.7 L514.5,151.7 L514.7,150.8 L514.8,149.8 L515.0,148.8 L515.1,147.8 L515.3,146.8 L515.5,145.8 L515.6,144.8 L515.8,143.8 L515.9,142.8 L516.1,141.8 L516.2,140.8 L516.4,139.8 L516.6,138.8 L516.7,137.8 L516.9,136.8 L517.1,135.8 L517.2,134.8 L517.4,133.9 L517.6,132.9 L517.7,131.9 L517.9,130.9 L518.1,129.9 L518.2,128.9 L518.4,127.9 L518.6,126.9 L518.8,125.9 L518.9,124.9 L519.1,124.0 L519.3,123.0 L519.5,122.0 L519.6,121.0 L519.8,120.0 L520.0,119.0 L520.2,118.0 L520.4,117.1 L520.6,116.1 L520.8,115.1 L520.9,114.1 L521.1,113.1 L521.3,112.1 L521.5,111.2 L521.7,110.2 L521.9,109.2 L522.1,108.2 L522.3,107.2 L522.5,106.3 L522.7,105.3 L522.9,104.3 L523.1,103.3 L523.3,102.3 L523.5,101.4 L523.7,100.4 L523.9,99.4 L524.1,98.4 L524.3,97.5 L524.5,96.5 L524.8,95.5 L525.0,94.6 L525.2,93.6 L525.4,92.6 L525.6,91.6 L525.8,90.7 L526.1,89.7 L526.3,88.7 L526.5,87.8 L526.7,86.8 L527.0,85.8 L527.2,84.9 L527.4,83.9 L527.7,82.9 L527.9,82.0 L528.1,81.0 L528.4,80.1 L528.6,79.1 L528.9,78.1 L529.1,77.2 L529.3,76.2 L529.6,75.3 L529.8,74.3 L530.1,73.4 L530.3,72.4 L530.6,71.5 L530.9,70.5 L531.1,69.6 L531.4,68.6 L531.6,67.7 L531.9,66.7 L532.2,65.8 L532.4,64.8 L532.7,63.9 L533.0,62.9 L533.3,62.0 L533.6,61.0 L533.9,60.1 L534.2,59.1 L534.5,58.2 L534.8,57.2 L535.1,56.3 L535.4,55.3 L535.7,54.4 L536.1,53.4 L536.4,52.5 L536.8,51.5 L537.1,50.6 L537.5,49.6 L537.9,48.7 L538.3,47.7 L538.7,46.8 L539.1,45.8 L539.5,44.8 L539.9,43.9 L540.4,42.9 L540.8,42.0 L541.3,41.0 L541.8,40.0 L542.3,39.1 L542.8,38.1 L543.3,37.2 L543.9,36.3 L544.5,35.5 L545.1,34.7 L545.8,33.9 L546.5,33.3 L547.2,32.6 L548.0,32.1 L548.9,31.6 L549.7,31.3 L550.6,31.0 L551.6,30.8 L552.5,30.7 L553.5,30.7 L554.4,30.8 L555.4,31.0 L556.4,31.3 L557.4,31.6 L558.3,31.9 L559.3,32.3 L560.2,32.7 L561.1,33.2 L561.9,33.7 L562.8,34.2 L563.6,34.7 L564.5,35.3 L565.3,35.9 L566.1,36.5 L566.9,37.1 L567.6,37.8 L568.4,38.5 L569.1,39.2 L569.9,39.9 L570.6,40.6 L571.3,41.3 L572.0,42.1 L572.7,42.8 L573.4,43.6 L574.1,44.4 L574.8,45.2 L575.4,46.0 L576.1,46.8 L576.7,47.6 L577.4,48.4 L578.0,49.2 L578.7,50.0 L579.3,50.8 L580.0,51.6 L580.6,52.4 L581.2,53.2 L581.9,54.0 L582.5,54.8 L583.1,55.6 L583.7,56.4 L584.4,57.2 L585.0,58.0 L585.6,58.8 L586.2,59.6 L586.8,60.4 L587.4,61.2 L588.0,62.0 L588.6,62.8 L589.1,63.6 L589.7,64.4 L590.3,65.2 L590.9,66.1 L591.5,66.9 L592.0,67.7 L592.6,68.5 L593.2,69.3 L593.7,70.1 L594.3,71.0 L594.9,71.8 L595.4,72.6 L596.0,73.4 L596.5,74.2 L597.1,75.1 L597.6,75.9 L598.1,76.7 L598.7,77.5 L599.2,78.4 L599.7,79.2 L600.3,80.0 L600.8,80.9 L601.3,81.7 L601.8,82.6 L602.3,83.4 L602.8,84.2 L603.4,85.1 L603.9,85.9 L604.4,86.8 L604.9,87.6 L605.4,88.5 L605.9,89.3 L606.4,90.2 L606.8,91.0 L607.3,91.9 L607.8,92.8 L608.3,93.6 L608.8,94.5 L609.3,95.4 L609.7,96.2 L610.2,97.1 L610.7,98.0 L611.1,98.8 L611.6,99.7 L612.1,100.6 L612.5,101.5 L613.0,102.4 L613.4,103.2 L613.9,104.1 L614.4,105.0 L614.8,105.9 L615.3,106.8 L615.7,107.7 L616.1,108.6 L616.6,109.5 L617.0,110.4 L617.5,111.3 L617.9,112.2 L618.3,113.1 L618.8,114.0 L619.2,114.9 L619.6,115.8 L620.1,116.7 L620.5,117.6 L620.9,118.5 L621.4,119.4 L621.8,120.3 L622.2,121.2 L622.6,122.2 L623.0,123.1 L623.5,124.0 L623.9,124.9 L624.3,125.8 L624.7,126.7 L625.1,127.6 L625.6,128.6 L626.0,129.5 L626.4,130.4 L626.8,131.3 L627.2,132.2 L627.6,133.2 L628.0,134.1 L628.5,135.0 L628.9,135.9 L629.3,136.8 L629.7,137.8 L630.1,138.7 L630.5,139.6 L630.9,140.5 L631.3,141.5 L631.8,142.4 L632.2,143.3 L632.6,144.2 L633.0,145.1 L633.4,146.1 L633.8,147.0 L634.2,147.9 L634.6,148.8 L635.1,149.8 L635.5,150.7 L635.9,151.6 L636.3,152.5 L636.7,153.4 L637.1,154.4 L637.5,155.3 L638.0,156.2 L638.4,157.1 L638.8,158.0 L639.2,158.9 L639.6,159.9 L640.1,160.8 L640.5,161.7 L640.9,162.6 L641.3,163.5 L641.8,164.4 L642.2,165.3 L642.6,166.3 L643.1,167.2 L643.5,168.1 L643.9,169.0 L644.4,169.9 L644.8,170.8 L645.2,171.7 L645.7,172.6 L646.1,173.5 L646.6,174.4 L647.0,175.3 L647.5,176.2 L647.9,177.1 L648.4,178.0 L648.8,178.9 L649.3,179.8 L649.7,180.7 L650.2,181.6 L650.7,182.4 L651.1,183.3 L651.6,184.2 L652.1,185.1 L652.5,186.0 L653.0,186.9 L653.5,187.7 L654.0,188.6 L654.5,189.5 L654.9,190.3 L655.4,191.2 L655.9,192.1 L656.4,192.9 L656.9,193.8 L657.4,194.7 L657.9,195.5 L658.4,196.4 L658.9,197.2 L659.5,198.1 L660.0,198.9 L660.5,199.8 L661.0,200.6 L661.5,201.5 L662.1,202.3 L662.6,203.1 L663.2,204.0 L663.9,204.7 L664.6,205.5 L665.2,206.2 L665.9,207.0 L666.6,207.7 L667.2,208.5 L667.9,209.3 L668.5,210.0 L669.1,210.8 L669.8,211.6 L670.4,212.4 L671.0,213.2 L671.6,214.0 L672.2,214.8 L672.9,215.6 L673.5,216.4 L674.1,217.2 L674.7,218.0 L675.3,218.8 L675.9,219.6 L676.5,220.4 L677.1,221.3 L677.7,222.1 L678.2,222.9 L678.8,223.7 L679.4,224.6 L680.0,225.4 L680.6,226.2 L681.2,227.0 L681.7,227.9 L682.3,228.7 L682.9,229.5 L683.5,230.3 L684.1,231.2 L684.6,232.0 L685.2,232.8 L685.8,233.6 L686.4,234.5 L687.0,235.3 L687.5,236.1 L688.1,236.9 L688.7,237.7 L689.3,238.6 L689.9,239.4 L690.5,240.2 L691.0,241.0 L691.6,241.8 L692.2,242.6 L692.8,243.4 L693.4,244.2 L694.0,245.0 L694.6,245.8 L695.2,246.6 L695.8,247.4 L696.4,248.2 L697.0,248.9 L697.6,249.7 L698.2,250.5 L698.8,251.3 L699.4,252.1 L700.1,252.9 L700.7,253.6 L701.3,254.4 L701.9,255.2 L702.5,256.0 L703.1,256.8 L703.7,257.5 L704.4,258.3 L705.0,259.1 L705.6,259.8 L706.2,260.6 L706.8,261.4 L707.5,262.2 L708.1,262.9 L708.7,263.7 L709.4,264.5 L710.0,265.2 L710.6,266.0 L711.3,266.8 L711.9,267.5 L712.5,268.3 L713.2,269.1 L713.8,269.8 L714.4,270.6 L715.1,271.4 L715.7,272.2 L716.4,272.9 L717.0,273.7 L717.6,274.5 L718.3,275.2 L718.9,276.0 L719.6,276.8 L720.2,277.6 L720.9,278.3 L721.5,279.1 L722.2,279.9 L722.8,280.7 L723.5,281.4 L724.1,282.2 L724.8,283.0 L725.5,283.8 L726.1,284.5 L726.8,285.3 L727.5,286.1 L728.1,286.9 L728.8,287.6 L729.5,288.4 L730.1,289.2 L730.8,289.9 L731.5,290.7 L732.2,291.5 L732.9,292.2 L733.5,293.0 L734.2,293.7 L734.9,294.5 L735.6,295.2 L736.3,296.0 L737.0,296.7 L737.7,297.4 L738.4,298.2 L739.1,298.9 L739.9,299.6 L740.6,300.3 L741.3,301.0 L742.0,301.7 L742.8,302.4 L743.5,303.1 L744.2,303.8 L745.0,304.5 L745.7,305.2 L746.5,305.9 L747.2,306.5 L748.0,307.2 L748.8,307.8 L749.5,308.5 L750.3,309.1 L751.1,309.7 L751.9,310.3 L752.7,311.0 L753.5,311.6 L754.3,312.2 L755.1,312.7 L755.9,313.3 L756.7,313.9 L757.5,314.5 L758.3,315.0 L759.2,315.6 L760.0,316.1 L760.9,316.6 L761.7,317.1 L762.6,317.6 L763.4,318.1 L764.3,318.6 L765.2,319.1 L766.1,319.5 L767.0,320.0 L767.9,320.4 L768.8,320.8 L769.7,321.3 L770.6,321.7 L771.5,322.1 L772.4,322.5 L773.3,322.9 L774.3,323.2 L775.2,323.6 L776.1,324.0 L777.1,324.4 L778.0,324.7 L779.0,325.1 L779.9,325.4 L780.8,325.8 L781.8,326.2 L782.7,326.5 L783.7,326.9 L784.6,327.2 L785.6,327.6 L786.5,327.9 L787.5,328.3 L788.4,328.6 L789.4,329.0 L790.3,329.3 L791.2,329.7 L792.2,330.1 L793.1,330.5 L794.0,330.8 L795.0,331.2 L795.9,331.6 L796.8,332.0 L797.8,332.4 L798.7,332.8 L799.6,333.2 L800.5,333.6 L801.4,334.0 L802.3,334.4 L803.3,334.8 L804.2,335.2 L805.1,335.6 L806.0,336.1 L806.9,336.5 L807.8,336.9 L808.7,337.3 L809.6,337.8 L810.5,338.2 L811.4,338.7 L812.3,339.1 L813.2,339.6 L814.1,340.0 L815.0,340.4 L815.9,340.9 L816.8,341.4 L817.7,341.8 L818.6,342.3 L819.6,342.7 L820.5,343.2 L821.4,343.6 L822.3,344.1 L823.2,344.5 L824.1,345.0 L825.0,345.4 L825.9,345.8 L826.8,346.3 L827.7,346.7 L828.6,347.2 L829.5,347.6 L830.4,348.0 L831.3,348.5 L832.2,348.9 L833.1,349.3 L834.0,349.7 L835.0,350.1 L835.9,350.5 L836.8,350.9 L837.7,351.3 L838.6,351.7 L839.6,352.1 L840.5,352.4 L841.4,352.8 L842.3,353.2 L843.3,353.5 L844.2,353.9 L845.1,354.2 L846.1,354.5 L847.0,354.8 L848.0,355.2 L848.9,355.5 L849.9,355.7 L850.8,356.0 L851.8,356.3 L852.7,356.6 L853.7,356.8 L854.7,357.0 L855.6,357.3 L856.6,357.5 L857.6,357.7 L858.6,357.9 L859.6,358.1 L860.5,358.2 L861.5,358.4 L862.5,358.5 L863.5,358.6 L864.5,358.8 L865.5,358.9 L866.6,358.9 L867.6,359.0 L868.6,359.1 L869.6,359.1 L870.7,359.1 L871.7,359.1 L872.7,359.1 L873.8,359.1 L874.8,359.1 L875.9,359.0 L877.0,358.9 L878.0,358.8" fill="none" stroke="#231f20" stroke-width="4.2" stroke-linejoin="round"/>
<text x="64.4" y="547.5" class="tick">0</text>
<text x="170.7" y="547.5" class="tick">1</text>
<text x="277.0" y="547.5" class="tick">2</text>
<text x="383.3" y="547.5" class="tick">3</text>
<text x="489.6" y="547.5" class="tick">4</text>
<text x="595.9" y="547.5" class="tick">5</text>
<text x="702.2" y="547.5" class="tick">6</text>
<text x="808.5" y="547.5" class="tick">7</text>
<text x="490.4" y="593.8" class="axlab" textLength="82.1" lengthAdjust="spacingAndGlyphs">Week</text>
<text transform="translate(25.3,431) rotate(-90)" x="0" y="0" class="ylab" textLength="376" lengthAdjust="spacingAndGlyphs">Serum IgG concentration</text>
<line x1="64.2" y1="646.9" x2="111.9" y2="646.9" stroke="#231f20" stroke-width="4"/>
<text x="135.2" y="655.2" class="leg" textLength="70.2" lengthAdjust="spacingAndGlyphs">IVIG</text>
<line x1="64.2" y1="694.1" x2="111.8" y2="694.1" stroke="#231f20" stroke-width="4" stroke-dasharray="8.4 8.5"/>
<text x="136.5" y="702.4" class="leg" textLength="427.2" lengthAdjust="spacingAndGlyphs">Average daily IgG level with IVIG</text>
<line x1="64.2" y1="741.3" x2="111.9" y2="741.3" stroke="#9ac44b" stroke-width="4"/>
<text x="134.6" y="749.6" class="leg" textLength="77.3" lengthAdjust="spacingAndGlyphs">SCIG</text>
<line x1="64.2" y1="788.5" x2="111.9" y2="788.5" stroke="#cc2229" stroke-width="4"/>
<text x="136.5" y="796.8" class="leg" textLength="448.2" lengthAdjust="spacingAndGlyphs">IVIG loading + SCIG maintenance</text>
<line x1="64.2" y1="835.7" x2="111.9" y2="835.7" stroke="#313890" stroke-width="4"/>
<text x="136.5" y="844.0" class="leg" textLength="253.1" lengthAdjust="spacingAndGlyphs">Loading with SCIG</text>
<rect x="65.2" y="865.4" width="45.6" height="32.1" fill="#a7a9ac" stroke="#231f20" stroke-width="2"/>
<text x="136.5" y="891.2" class="leg" textLength="576.5" lengthAdjust="spacingAndGlyphs">Higher risk zone between two IVIG infusions</text>
</svg>
</body></html>
